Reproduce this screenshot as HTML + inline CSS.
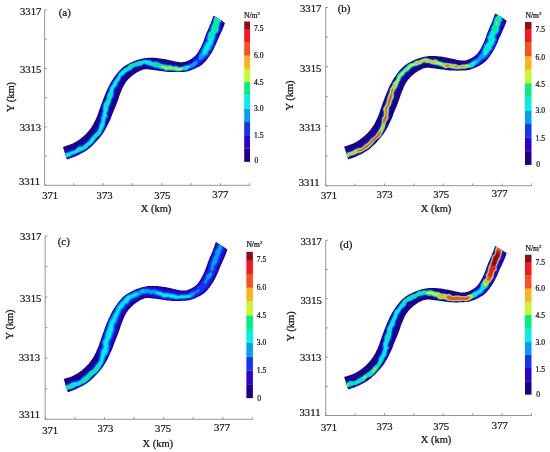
<!DOCTYPE html>
<html lang="en"><head><meta charset="utf-8"><title>Bed shear stress</title>
<style>html,body{margin:0;padding:0;background:#fff}body{width:550px;height:452px;overflow:hidden}svg{display:block}text{font-family:"Liberation Serif","Times New Roman",serif;fill:#111;stroke:#111;stroke-width:0.22px}</style></head><body>
<svg width="550" height="452" viewBox="0 0 550 452">
<defs><filter id="soft" x="-5%" y="-5%" width="110%" height="110%"><feGaussianBlur stdDeviation="0.35"/></filter></defs>
<rect width="550" height="452" fill="#fff"/>
<g id="panel-a">
<g class="river" filter="url(#soft)">
<polygon fill="#1c0088" points="62.9,146.9 64.3,146.4 65.7,145.9 67.1,145.5 68.6,145 70,144.6 71.4,144.1 72.7,143.5 74.1,142.8 75.4,142.1 76.8,141.2 78.1,140.4 79.4,139.5 80.7,138.5 82,137.5 83.2,136.5 84.3,135.5 85.4,134.5 86.4,133.4 87.5,132.3 88.4,131.2 89.3,130 90.2,128.9 91.1,127.7 91.9,126.5 92.7,125.3 93.4,124 94.1,122.6 94.8,121.3 95.4,120 96,118.7 96.5,117.5 97,116.4 97.4,115.5 97.7,114.7 98,114 98.2,113.4 98.4,112.7 98.6,112 98.9,111.1 99.3,110 99.8,108.7 100.3,107.2 100.9,105.5 101.5,103.8 102.2,102.1 102.8,100.3 103.5,98.6 104.1,97 104.7,95.5 105.3,94 105.9,92.5 106.6,91.1 107.2,89.6 107.8,88.2 108.5,86.9 109.2,85.5 109.9,84.2 110.7,82.8 111.4,81.5 112.2,80.2 113,79 113.8,77.8 114.6,76.6 115.5,75.4 116.4,74.3 117.3,73.1 118.2,72 119.1,71 120.1,69.9 121.1,68.9 122.1,68 123.2,67.1 124.4,66.3 125.6,65.4 126.9,64.7 128.2,64 129.5,63.3 130.8,62.7 132.1,62.1 133.4,61.5 134.6,61 135.9,60.5 137.1,60.1 138.3,59.7 139.5,59.3 140.7,59 141.8,58.8 143,58.5 144.1,58.3 145.2,58.1 146.3,58 147.4,57.9 148.4,57.8 149.5,57.7 150.6,57.7 151.8,57.7 153,57.7 154.3,57.8 155.6,57.9 156.9,58 158.2,58.2 159.5,58.4 160.8,58.5 162,58.7 163.2,58.9 164.3,59.1 165.5,59.3 166.6,59.6 167.7,59.8 168.8,60 169.9,60.3 171,60.5 172.1,60.7 173.3,61 174.4,61.3 175.5,61.5 176.7,61.8 177.8,62 178.8,62.1 179.8,62.2 180.7,62.2 181.6,62.2 182.4,62.2 183.2,62.1 184,62 184.8,61.9 185.6,61.6 186.5,61.3 187.5,60.9 188.5,60.5 189.5,59.9 190.6,59.3 191.6,58.7 192.7,58 193.6,57.3 194.5,56.6 195.3,55.8 196,55 196.7,54.1 197.4,53.1 198,52.2 198.6,51.2 199.1,50.2 199.7,49.3 200.2,48.4 200.7,47.4 201.2,46.5 201.7,45.5 202.1,44.6 202.5,43.6 202.9,42.6 203.3,41.7 203.7,40.8 204,39.9 204.3,39 204.6,38 204.9,37.1 205.3,36.2 205.6,35.2 206,34.2 206.4,33.1 206.9,32 207.4,30.9 207.9,29.7 208.5,28.5 209,27.3 209.5,26.2 210,25 210.5,23.9 210.9,22.7 211.3,21.6 211.8,20.4 212.2,19.2 212.6,18.1 213.1,17 213.5,15.8 225,23 224.7,23.8 224.4,24.6 224.1,25.4 223.8,26.2 223.5,27 223.2,27.8 222.8,28.7 222.4,29.7 221.9,30.8 221.4,31.9 220.8,33.2 220.2,34.5 219.6,35.7 219.1,37 218.5,38.2 218,39.3 217.6,40.3 217.1,41.3 216.8,42.2 216.4,43.1 216,43.9 215.6,44.8 215.2,45.7 214.8,46.6 214.3,47.5 213.9,48.5 213.4,49.4 213,50.4 212.4,51.4 211.9,52.4 211.2,53.4 210.5,54.5 209.7,55.7 208.8,56.9 207.9,58.2 206.9,59.5 205.9,60.9 204.8,62.1 203.6,63.3 202.3,64.4 200.9,65.4 199.4,66.4 197.7,67.3 196,68.1 194.3,68.9 192.6,69.6 191,70.3 189.5,70.8 188.1,71.2 186.9,71.5 185.7,71.7 184.5,71.8 183.3,71.9 182.2,71.9 181,71.9 179.8,72 178.5,72.1 177.2,72.1 175.9,72.1 174.6,72.1 173.3,72.1 172,72.1 170.7,72.1 169.5,72 168.4,71.9 167.3,71.8 166.2,71.7 165.2,71.6 164.2,71.4 163.1,71.3 162.1,71.1 161,71 159.9,70.9 158.7,70.7 157.5,70.5 156.3,70.4 155.2,70.2 154,70 152.9,69.9 151.8,69.8 150.8,69.7 149.8,69.6 148.8,69.4 147.9,69.3 147,69.3 146.1,69.2 145.2,69.3 144.3,69.4 143.4,69.6 142.5,69.8 141.6,70.2 140.7,70.5 139.8,70.9 138.9,71.4 138.1,71.8 137.2,72.3 136.3,72.8 135.5,73.4 134.6,73.9 133.7,74.5 132.9,75.2 132.1,75.8 131.3,76.5 130.5,77.2 129.8,77.9 129,78.6 128.3,79.3 127.7,80.1 127,80.8 126.3,81.6 125.7,82.5 125.1,83.4 124.5,84.4 123.9,85.4 123.4,86.5 122.8,87.6 122.3,88.7 121.8,89.8 121.3,91 120.8,92.2 120.3,93.4 119.9,94.6 119.4,95.8 119,97.1 118.6,98.4 118.2,99.6 117.7,101 117.2,102.3 116.7,103.7 116.1,105.2 115.4,106.7 114.8,108.2 114.2,109.8 113.6,111.2 113,112.6 112.5,113.8 112.1,114.8 111.8,115.7 111.5,116.4 111.3,117.1 111,117.8 110.7,118.6 110.3,119.6 109.7,120.8 109,122.2 108.2,123.9 107.3,125.6 106.4,127.5 105.3,129.4 104.2,131.4 103,133.2 101.8,135 100.5,136.7 99,138.5 97.4,140.3 95.8,142 94.2,143.7 92.5,145.4 90.9,146.9 89.4,148.2 87.9,149.4 86.4,150.5 85,151.4 83.6,152.3 82.1,153.1 80.7,153.8 79.3,154.5 77.9,155.2 76.5,155.9 75.2,156.4 73.8,157 72.5,157.5 71.1,157.9 69.8,158.4 68.4,158.9 67.1,159.4"/>
<polygon fill="#2d00d4" points="64.5,151.5 65.8,150.9 67.2,150.6 68.7,150.4 70.1,149.9 71.4,149.3 72.9,149 74.3,148.6 75.6,147.7 76.7,146.2 78,145 79.5,144.8 81.2,144.8 82.6,144.3 83.9,143.1 85.1,141.9 86.5,140.9 87.7,139.6 88.8,138 89.8,136.4 91.1,135.1 92.5,134 93.7,132.7 94.9,131.4 96.1,130.1 97,128.6 97.3,126.7 97.5,124.7 98,123 99,121.7 99.8,120.3 99.7,118.7 99.2,117.2 99.4,116.1 99.9,115.4 100.2,114.7 100.1,113.9 100.2,113.2 100.8,112.6 101.3,111.8 101.3,110.6 101.1,109.1 101.3,107.5 101.8,105.8 102.3,104.1 103,102.3 103.8,100.7 104.9,99.1 105.5,97.6 105.7,95.9 106,94.3 106.7,92.9 107.4,91.5 108,90 108.4,88.6 109,87.2 109.8,85.9 110.7,84.6 111.3,83.2 111.9,81.9 112.7,80.6 113.6,79.4 114.5,78.3 115.3,77.1 116.1,75.9 116.9,74.8 117.7,73.5 118.5,72.3 119.4,71.3 120.4,70.4 121.5,69.5 122.5,68.6 123.6,67.6 124.8,66.9 126,66.2 127.2,65.3 128.4,64.4 129.7,63.6 131,63 132.3,62.6 133.6,62.1 134.8,61.6 136,61.1 137.2,60.6 138.4,60.2 139.6,59.9 140.8,59.6 142,59.5 143.1,59.3 144.2,58.9 145.3,58.7 146.3,58.6 147.4,58.7 148.5,58.6 149.5,58.6 150.7,58.8 151.8,59.8 153,60.5 154.2,60.2 155.5,59.8 156.8,59.9 158.1,60.5 159.3,61.1 160.5,61.6 161.7,62.4 162.8,62.9 163.9,63.2 165.1,63.1 166.2,63.1 167.2,63.5 168.3,63.8 169.4,63.7 170.6,63.7 171.7,64.3 172.8,64.9 174,64.9 175.3,64.5 176.5,64.4 177.6,65 178.7,65.8 179.8,66 180.8,65.7 181.8,65.5 182.7,65.4 183.6,65 184.4,64.4 185.2,64 186.2,63.9 187.3,63.8 188.3,63.2 189.4,62.6 190.6,62 191.7,61.1 192.4,59.8 193.2,58.7 194.2,58 195.2,57.3 196.1,56.6 196.7,55.5 197.3,54.5 197.9,53.5 198.6,52.5 199.1,51.5 199.6,50.5 200.2,49.5 200.8,48.6 201.3,47.7 201.7,46.7 202.1,45.7 202.5,44.8 203,43.8 203.4,42.8 203.8,41.9 204.3,41 204.9,40.2 205.2,39.3 205.3,38.3 205.4,37.3 205.8,36.4 206.2,35.5 206.5,34.4 206.9,33.3 207.4,32.2 208.1,31.1 208.7,30 209.1,28.8 209.5,27.5 210,26.3 210.5,25.2 211,24.1 211.5,22.9 211.9,21.8 212.4,20.7 212.6,19.5 212.9,18.3 213.4,17.2 214,16.1 223.6,22.1 223.4,23.1 222.8,23.7 221.9,24.3 221.6,25.1 221.7,26.2 221.8,27.2 221.4,28.2 221.1,29.2 220.9,30.4 220.6,31.7 219.9,32.8 218.9,34 217.9,35.1 217.7,36.4 217.5,37.8 217.1,38.9 216.7,39.9 216.4,40.9 216,41.9 215.6,42.7 215.2,43.6 215,44.5 214.7,45.4 214.3,46.4 213.7,47.3 213.2,48.2 212.9,49.2 212.4,50.1 211.8,51.1 211,52 210.5,53.1 210,54.2 209.2,55.4 208.3,56.6 207.2,57.8 206.2,59.1 205.1,60.3 203.9,61.4 202.6,62.4 201.5,63.6 200.3,64.7 198.9,65.8 197.3,66.7 195.6,67.6 194,68.4 192.3,69 190.7,69.5 189.2,70 188,70.6 186.8,71.1 185.6,71.2 184.4,71.1 183.3,71.1 182.2,71.4 181,71.6 179.8,71.7 178.5,71.7 177.2,71.7 175.9,71.8 174.6,71.7 173.3,71.5 172.1,71.3 170.8,71.3 169.6,71.3 168.4,71.3 167.3,71.3 166.3,71.3 165.2,71.2 164.2,70.9 163.2,70.3 162.2,70.1 161.1,70.2 159.9,70.1 158.8,69.7 157.6,69.3 156.4,69.2 155.2,69.2 154,68.8 152.9,68.1 151.8,67.8 150.8,67.8 149.8,67.6 148.8,67.2 147.8,66.7 146.8,66.4 145.8,65.9 144.8,65.3 143.8,65.2 142.9,66.1 142,67.1 141.1,67.4 140,67.2 138.9,67.2 137.9,67.7 136.9,68.1 135.7,68.1 134.6,68.4 133.7,69.2 132.9,70.3 132,71.2 130.9,71.6 129.7,72.1 128.7,72.7 127.7,73.3 126.7,73.9 125.9,74.8 125.4,75.9 124.6,76.8 123.5,77.4 122.4,78 121.8,79 121.5,80.4 121.1,81.6 120.2,82.6 119.5,83.7 119.2,85.1 118.9,86.4 118,87.4 116.7,88.2 115.8,89.3 115.5,90.7 115.4,92.2 115.3,93.7 115.2,95.2 115.1,96.7 114.6,98.1 113.6,99.2 112.7,100.5 112.3,102 112.2,103.7 111.5,105.3 110.6,106.9 110.2,108.5 110.2,110.2 109.9,111.6 109,112.8 108.3,113.8 108.6,114.8 109.3,115.8 109.6,116.6 109.2,117.3 108.7,118 108.2,118.9 107.7,120.1 107,121.5 106.6,123.2 106.4,125.2 105.7,127.1 104.7,129 103.6,130.9 102.5,132.8 101.4,134.6 100,136.3 98.3,137.8 96.8,139.4 95.4,141.4 93.9,143.3 92.3,144.9 90.6,146.2 89.1,147.4 87.7,148.7 86.2,149.9 84.8,150.8 83.3,151.6 81.9,152.4 80.5,153.1 79,153.6 77.6,154.2 76.2,154.9 74.9,155.6 73.5,156.1 72.2,156.6 70.9,157.2 69.6,157.9 68.3,158.3 66.8,158.5"/>
<polygon fill="#1036f2" points="64.8,152.4 66.1,151.9 67.6,151.6 69,151.3 70.4,150.8 71.7,150.3 73.2,149.9 74.6,149.5 75.8,148.5 77,147.1 78.3,146.1 79.8,145.8 81.4,145.7 82.9,145.1 84.2,144 85.5,142.8 86.8,141.8 88.1,140.5 89.3,139 90.4,137.3 91.6,135.9 93,134.7 94.3,133.4 95.6,132 96.9,130.8 97.7,129.2 98.2,127.2 98.5,125.3 99,123.6 100,122.1 100.6,120.7 100.6,119 100.3,117.5 100.5,116.5 101,115.7 101.3,115 101.3,114.3 101.3,113.6 101.8,112.9 102.2,112 102.3,110.9 102.2,109.4 102.1,107.7 102.4,106 102.8,104.2 103.5,102.5 104.6,101 105.7,99.5 106.3,97.9 106.3,96.1 106.5,94.5 107.2,93.1 108.1,91.8 108.5,90.3 108.9,88.8 109.5,87.4 110.3,86.1 111.1,84.9 111.7,83.5 112.4,82.2 113.1,80.9 114,79.7 115,78.7 115.8,77.5 116.6,76.3 117.3,75.1 118,73.8 118.8,72.6 119.7,71.6 120.7,70.7 121.8,69.9 122.8,68.9 123.8,68 125,67.2 126.3,66.6 127.5,65.7 128.6,64.7 129.8,63.9 131.1,63.3 132.5,63 133.8,62.5 134.9,62 136.1,61.5 137.3,61 138.5,60.6 139.7,60.3 140.8,60.1 142,60.1 143.2,59.8 144.2,59.3 145.3,59.1 146.4,59.1 147.4,59.4 148.5,59.4 149.6,59.3 150.7,59.8 151.8,60.7 153,61.4 154.2,61.2 155.5,60.8 156.8,60.9 158,61.5 159.3,62.1 160.5,62.6 161.6,63.3 162.7,63.7 163.9,64 165,64 166.1,64.1 167.1,64.5 168.2,64.7 169.3,64.6 170.5,64.6 171.6,65.1 172.7,65.6 173.9,65.7 175.2,65.3 176.4,65.3 177.6,65.8 178.7,66.5 179.8,66.7 180.9,66.4 181.8,66.2 182.8,66 183.7,65.7 184.5,65.2 185.4,64.9 186.4,64.8 187.5,64.6 188.7,64.1 189.9,63.6 191.2,63 192.3,62.2 193.2,61 194.1,59.8 195.2,59.1 196.5,58.6 197.3,57.7 197.7,56.3 197.9,55 198.5,53.9 199.2,52.9 199.8,51.9 200.2,50.8 200.7,49.8 201.3,48.8 201.8,47.9 202.2,46.9 202.6,45.9 203,45 203.5,44 203.8,43 204.3,42.1 204.9,41.3 206,40.7 206.3,39.8 205.9,38.6 206,37.6 206.3,36.6 206.7,35.7 207,34.6 207.4,33.5 207.9,32.4 208.6,31.4 209.3,30.2 209.6,29 210,27.7 210.5,26.5 211,25.4 211.5,24.3 211.9,23.1 212.4,22 212.8,20.9 213,19.7 213.3,18.5 213.8,17.4 214.4,16.4 222.3,21.3 222.1,22.3 221.4,23 220.6,23.6 220.2,24.4 220.4,25.6 220.4,26.6 220,27.6 219.7,28.7 219.8,30 219.8,31.3 218.9,32.5 217.5,33.4 216.5,34.5 216.3,35.9 216.3,37.2 216,38.4 215.7,39.5 215.5,40.6 215.2,41.5 214.8,42.4 214.3,43.2 214.3,44.2 214.2,45.2 213.8,46.2 213.1,47 212.5,47.9 212.3,48.9 211.9,49.9 211,50.7 210,51.5 209.6,52.7 209.4,54 208.7,55.2 207.7,56.3 206.4,57.3 205.1,58.3 204,59.4 202.7,60.4 201.4,61.3 200.2,62.3 199.3,63.6 198.1,64.9 196.7,65.9 195.2,66.9 193.7,67.8 192,68.4 190.4,68.8 189,69.3 187.9,70.1 186.7,70.7 185.5,70.9 184.3,70.7 183.2,70.6 182.1,71 181,71.3 179.8,71.4 178.5,71.4 177.3,71.4 176,71.4 174.7,71.3 173.4,71.1 172.1,70.9 170.9,70.9 169.6,70.9 168.5,70.8 167.4,70.9 166.3,71 165.3,70.9 164.3,70.4 163.3,69.7 162.2,69.4 161.1,69.7 160,69.5 158.8,68.9 157.6,68.4 156.4,68.3 155.2,68.3 154,67.9 152.9,67.2 151.8,66.9 150.7,66.7 149.7,66.5 148.7,66.1 147.7,65.8 146.8,65.4 145.8,64.9 144.7,64.4 143.7,64.4 142.8,65.2 141.9,66.1 140.9,66.5 139.8,66.4 138.7,66.4 137.7,66.8 136.6,67.2 135.5,67.4 134.3,67.6 133.3,68.4 132.4,69.4 131.5,70.3 130.4,70.8 129.3,71.3 128.2,71.9 127.1,72.5 126.1,73.2 125.3,74.1 124.7,75.2 123.8,76 122.8,76.6 121.7,77.3 121.1,78.4 120.8,79.8 120.3,81 119.4,82 118.7,83.1 118.3,84.4 117.9,85.8 117,86.9 115.9,87.7 114.9,88.8 114.5,90.2 114.4,91.7 114.3,93.2 114.2,94.8 114,96.3 113.5,97.6 112.6,98.8 111.8,100.1 111.4,101.7 111.1,103.4 110.5,105 109.6,106.5 109.1,108.2 109.1,109.8 108.8,111.3 108,112.5 107.4,113.5 107.6,114.5 108.2,115.5 108.5,116.3 108.1,117 107.6,117.7 107.1,118.6 106.6,119.7 106.1,121.1 105.8,122.9 105.6,124.8 105.2,126.9 104.2,128.8 103.1,130.6 102.1,132.5 101,134.3 99.6,135.9 97.9,137.3 96.3,138.9 95.1,141 93.7,142.9 92.1,144.4 90.4,145.7 88.9,147 87.5,148.3 86.1,149.4 84.6,150.3 83.2,151.1 81.8,151.9 80.3,152.6 78.8,153.1 77.4,153.6 76,154.3 74.7,155 73.3,155.5 72,156 70.7,156.7 69.5,157.4 68.1,157.9 66.6,157.8"/>
<polygon fill="#00a0f0" points="65,153.2 66.4,152.7 67.8,152.4 69.2,152 70.6,151.5 71.9,151 73.4,150.6 74.8,150.1 76,149.1 77.2,147.8 78.5,146.8 80.1,146.5 81.7,146.4 83.1,145.8 84.4,144.6 85.7,143.4 87.1,142.4 88.4,141.2 89.7,139.7 90.8,138.1 92.1,136.5 93.4,135.1 94.7,133.8 96.1,132.5 97.4,131.2 98.3,129.6 98.9,127.7 99.2,125.7 99.8,124 100.7,122.5 101.3,120.9 101.3,119.3 101.2,117.8 101.4,116.8 101.9,116 102.2,115.3 102.1,114.5 102.2,113.8 102.5,113.1 102.9,112.2 103,111.1 103,109.6 102.9,108 103.1,106.2 103.5,104.5 104.2,102.8 105.3,101.2 106.4,99.7 106.9,98.1 107,96.4 107.2,94.8 108,93.4 108.8,92.1 109.2,90.7 109.4,89.1 109.9,87.6 110.8,86.4 111.7,85.2 112.4,83.9 112.9,82.5 113.7,81.3 114.6,80.2 115.6,79.1 116.4,77.9 117.1,76.7 117.8,75.5 118.3,74.1 119,72.9 119.9,71.9 121.1,71.1 122.2,70.3 123.2,69.4 124.1,68.4 125.4,67.7 126.7,67.2 127.8,66.2 128.7,65 129.9,64.2 131.3,63.6 132.6,63.3 133.9,63 135.1,62.5 136.3,61.9 137.4,61.5 138.6,61.1 139.8,60.8 141,60.7 142.1,60.7 143.2,60.3 144.3,59.9 145.4,59.7 146.4,59.9 147.5,60.1 148.5,60.2 149.6,60.2 150.7,60.6 151.8,61.4 153,62 154.2,61.9 155.4,61.6 156.7,61.7 158,62.2 159.2,62.8 160.4,63.3 161.6,63.9 162.7,64.3 163.8,64.5 164.9,64.6 166,64.8 167,65.1 168.1,65.3 169.3,65.1 170.4,65.1 171.5,65.6 172.7,66.1 173.9,66.2 175.1,65.9 176.4,65.9 177.5,66.4 178.7,67 179.8,67.2 180.9,66.9 181.9,66.7 182.8,66.5 183.7,66.2 184.6,65.8 185.6,65.5 186.6,65.4 187.7,65.2 188.9,64.9 190.3,64.4 191.6,63.9 192.9,63.1 194,62 195.1,61.1 196.8,60.9 197.8,60.9 197.6,61.8 197.1,63.6 196,64.9 194.7,66 193.2,67 191.7,67.6 190.1,68.1 188.8,68.7 187.7,69.5 186.6,70.2 185.4,70.4 184.3,70.2 183.2,70.2 182.1,70.6 181,71 179.8,71.2 178.6,71.2 177.3,71.2 176,71.1 174.7,71 173.4,70.6 172.2,70.4 170.9,70.4 169.7,70.4 168.6,70.4 167.4,70.6 166.3,70.7 165.3,70.6 164.3,70 163.3,69.2 162.3,68.9 161.2,69.1 160,68.9 158.9,68.2 157.7,67.7 156.5,67.5 155.2,67.5 154.1,67.2 152.9,66.6 151.8,66.2 150.7,65.9 149.7,65.6 148.7,65.3 147.7,65 146.7,64.7 145.7,64.2 144.7,63.8 143.6,63.8 142.7,64.6 141.7,65.4 140.7,65.8 139.6,65.7 138.5,65.8 137.5,66.2 136.4,66.6 135.3,66.8 134.1,67.1 133.1,67.8 132.1,68.8 131.2,69.7 130.1,70.3 128.9,70.8 127.8,71.4 126.7,72 125.7,72.7 124.9,73.6 124.2,74.6 123.3,75.4 122.2,76 121.2,76.8 120.6,78 120.3,79.4 119.7,80.6 118.8,81.6 118,82.6 117.5,83.9 117.1,85.3 116.4,86.4 115.3,87.4 114.3,88.5 113.9,89.8 113.7,91.3 113.6,92.9 113.5,94.4 113.3,95.9 112.8,97.3 111.9,98.5 111.2,99.9 110.8,101.4 110.4,103.1 109.7,104.7 108.8,106.3 108.4,107.9 108.3,109.6 108,111.1 107.2,112.3 106.7,113.3 106.8,114.3 107.3,115.3 107.6,116.1 107.3,116.7 106.7,117.4 106.2,118.3 105.8,119.4 105.4,120.9 105.2,122.6 104.9,124.5 104.4,126.5 103.5,128.3 102.5,130.2 101.7,132.2 100.7,134.1 99.2,135.6 97.5,136.9 96,138.4 94.7,140.4 93.4,142.4 91.9,144 90.2,145.2 88.7,146.4 87.3,147.8 85.9,149 84.5,149.9 83,150.6 81.5,151.2 80.1,151.8 78.6,152.4 77.2,153 75.9,153.7 74.5,154.3 73.1,154.8 71.8,155.3 70.5,156.1 69.3,156.9 67.9,157.3 66.3,157.1"/>
<polygon fill="#00a0f0" points="198.8,60 198.8,59 198.9,57.3 199.1,55.9 199.6,54.7 200.4,53.6 201.1,52.6 201.5,51.4 201.7,50.3 202.3,49.3 202.8,48.3 203.1,47.3 203.5,46.3 204,45.4 204.4,44.4 204.8,43.4 205.3,42.6 206.2,41.8 207.1,41.1 207.3,40.2 207.1,39.1 206.9,38 207.2,37 207.6,36.1 207.8,35 207.9,33.8 208.5,32.7 209.5,31.7 210.2,30.6 210.5,29.3 210.7,28 211.1,26.8 211.7,25.6 212.1,24.5 212.6,23.4 213.1,22.4 213.4,21.2 213.4,19.9 213.6,18.7 214.1,17.6 215,16.8 221.4,20.7 221.1,21.7 220.5,22.5 219.7,23.1 219.4,24 219.5,25.2 219.4,26.2 219,27.2 218.8,28.3 218.8,29.6 218.7,31 217.9,32.1 216.6,33.1 215.6,34.1 215.3,35.5 215.2,36.8 215,38 214.6,39.1 214.3,40.1 214,41 213.6,41.9 213.3,42.7 213.2,43.7 213.1,44.8 212.6,45.7 211.8,46.4 211.2,47.3 211,48.4 210.6,49.4 209.9,50.2 208.9,51.1 208.4,52.1 208.1,53.4 207.5,54.5 206.4,55.6 205.2,56.5 204,57.5 202.8,58.5 201.4,59.4 199.8,59.9"/>
<polygon fill="#00f0e6" points="65.3,153.9 66.7,153.5 68.1,153.2 69.5,152.7 70.8,152.2 72.2,151.7 73.6,151.3 74.9,150.7 76.2,149.7 77.4,148.5 78.8,147.6 80.3,147.2 81.9,147 83.3,146.4 84.6,145.2 85.9,144 87.3,143 88.7,141.9 90.1,140.5 91.3,138.8 92.5,137.1 93.7,135.6 95.1,134.2 96.5,132.9 97.9,131.7 98.9,130.1 99.6,128.2 100,126.2 100.6,124.4 101.4,122.8 102,121.2 102.1,119.6 102.1,118.2 102.4,117.1 102.8,116.2 103.1,115.5 103.1,114.8 103.1,114 103.3,113.3 103.6,112.4 103.8,111.3 103.8,109.9 103.7,108.2 103.9,106.5 104.2,104.7 105,103 106.1,101.5 107,100 107.5,98.4 107.6,96.7 107.9,95.1 108.7,93.8 109.5,92.5 110,91.1 110.2,89.5 110.6,88 111.4,86.8 112.3,85.6 113.1,84.4 113.8,83.1 114.5,81.9 115.3,80.7 116.2,79.5 116.9,78.4 117.6,77.2 118.3,75.9 118.8,74.6 119.6,73.4 120.5,72.5 121.6,71.7 122.6,70.8 123.5,69.8 124.5,68.9 125.7,68.2 127,67.7 128.1,66.8 129,65.6 130.1,64.6 131.4,64 132.8,63.8 134.1,63.5 135.3,63 136.4,62.5 137.6,62 138.7,61.7 139.9,61.4 141.1,61.4 142.2,61.3 143.3,60.9 144.4,60.6 145.4,60.4 146.5,60.6 147.5,60.9 148.5,61 149.6,61.1 150.7,61.5 151.8,62.1 153,62.6 154.2,62.6 155.4,62.4 156.7,62.4 157.9,62.9 159.2,63.4 160.4,63.9 161.5,64.4 162.7,64.7 163.8,65 164.8,65.1 165.9,65.4 167,65.7 168,65.8 169.2,65.6 170.3,65.6 171.5,66 172.6,66.6 173.8,66.7 175.1,66.4 176.3,66.4 177.5,66.8 178.7,67.4 179.8,67.6 180.9,67.3 181.9,67.1 182.9,66.9 183.8,66.7 184.7,66.4 185.7,66.2 186.8,66.1 188,66 189.3,65.8 190.2,66.2 189.8,67.1 188.6,67.9 187.5,68.8 186.5,69.6 185.3,69.8 184.2,69.7 183.1,69.8 182.1,70.2 181,70.7 179.8,71 178.6,70.9 177.3,70.8 176,70.7 174.7,70.5 173.5,70.2 172.2,70 171,69.9 169.8,69.9 168.6,69.9 167.5,70.1 166.4,70.3 165.3,70.2 164.4,69.5 163.4,68.8 162.3,68.4 161.2,68.5 160.1,68.2 158.9,67.6 157.7,67 156.5,66.8 155.3,66.8 154.1,66.5 152.9,66 151.8,65.5 150.7,65.1 149.7,64.8 148.7,64.5 147.7,64.3 146.7,64 145.7,63.5 144.6,63.2 143.6,63.3 142.6,64 141.6,64.8 140.6,65.1 139.5,65.1 138.4,65.2 137.3,65.6 136.2,66.1 135.1,66.3 133.9,66.6 132.8,67.2 131.8,68.2 130.9,69 129.8,69.7 128.6,70.3 127.5,70.9 126.4,71.5 125.4,72.2 124.5,73.1 123.7,74 122.6,74.7 121.5,75.4 120.6,76.3 120.1,77.5 119.7,78.9 119.1,80.1 118.2,81.1 117.3,82.1 116.7,83.4 116.3,84.7 115.6,86 114.7,87 113.7,88.1 113.1,89.4 112.9,90.9 112.8,92.5 112.7,94.1 112.5,95.6 112,96.9 111.3,98.2 110.6,99.6 110.2,101.2 109.7,102.8 108.9,104.4 108.1,106 107.6,107.7 107.5,109.4 107.1,110.8 106.4,112 106,113.1 106.1,114.1 106.5,115 106.7,115.8 106.4,116.5 105.8,117.1 105.2,118 104.8,119.1 104.6,120.6 104.5,122.3 104.2,124.2 103.6,126 102.7,127.8 101.8,129.7 101.1,131.7 100.2,133.6 98.8,135.1 97.1,136.5 95.6,138 94.3,139.8 93,141.7 91.5,143.2 89.9,144.6 88.4,145.8 87.1,147.2 85.7,148.4 84.3,149.3 82.8,149.9 81.3,150.5 79.9,151.1 78.4,151.7 77,152.4 75.7,153.1 74.3,153.6 72.9,154.1 71.5,154.6 70.3,155.4 69,156.2 67.7,156.5 66.1,156.3"/>
<polygon fill="#00f0e6" points="202.4,55.7 202.4,54.9 202.9,53.6 203.3,52.4 203.3,51 203.5,49.9 203.9,48.8 204.3,47.8 204.8,46.9 205.5,46 205.9,45.1 206.3,44.1 206.8,43.2 207.5,42.4 208.2,41.6 208.5,40.7 208.4,39.6 208.3,38.6 208.3,37.5 208.6,36.5 208.7,35.4 208.9,34.1 209.4,33 210.3,32 211.1,30.9 211.5,29.6 211.7,28.3 212,27.1 212.5,26 213,24.8 213.5,23.8 213.9,22.7 214.1,21.5 214.1,20.2 214.2,18.9 214.8,18 215.8,17.3 220.6,20.2 220.3,21.2 219.7,22 219,22.7 218.6,23.7 218.7,24.8 218.5,25.9 218.2,26.9 217.9,28 217.9,29.3 217.8,30.6 217,31.7 215.7,32.7 214.8,33.8 214.4,35.1 214.3,36.4 214,37.6 213.6,38.6 213.1,39.6 212.6,40.4 212.3,41.3 212.1,42.3 212.1,43.3 211.8,44.2 211.1,45 210.3,45.8 209.7,46.7 209.5,47.7 209.3,48.8 208.7,49.7 207.9,50.6 207.2,51.6 206.6,52.6 205.7,53.6 204.5,54.5 203.2,55.3"/>
<polygon fill="#00f07d" points="75.9,151.4 76.6,150.8 77.8,149.6 79.1,148.8 80.7,148.4 82.2,148.1 83.6,147.2 84.9,146 86.2,144.9 87.7,143.9 88.6,143.8 88.1,144.9 86.8,146.3 85.5,147.6 84,148.5 82.5,148.9 80.9,149.3 79.5,149.9 78.1,150.6 76.7,151.3"/>
<polygon fill="#00f07d" points="92.7,139.2 93.2,138.2 94.2,136.2 95.6,134.7 97.1,133.5 98.9,132.5 99.6,131.8 99.3,132.8 98.2,134.5 96.7,135.9 95.1,137.3 93.6,138.7"/>
<polygon fill="#00f07d" points="105.3,109.5 105,108.6 104.9,106.8 105.2,105 106,103.4 107.1,101.9 107.9,100.3 108.2,98.7 108.4,97 108.8,95.5 109.7,94.2 110.7,93.1 111.4,92.6 111.5,93.5 111.5,95.1 111.1,96.6 110.5,97.9 109.8,99.3 109.3,100.9 108.7,102.5 107.9,104.1 107.1,105.7 106.6,107.4 106.2,109"/>
<polygon fill="#00f07d" points="123.1,72.4 123.2,71.6 124,70.5 125,69.6 126.2,69 127.4,68.3 128.5,67.5 129.4,66.3 130.5,65.3 131.7,64.7 133.1,64.4 134.3,64.2 135.5,63.8 136.6,63.2 137.7,62.7 138.9,62.3 140,62.2 141.2,62.3 142.3,62.2 142.9,62.5 142.5,63 141.5,63.9 140.5,64.3 139.3,64.5 138.2,64.6 137.1,64.9 136,65.3 134.9,65.6 133.7,66 132.5,66.6 131.5,67.5 130.5,68.3 129.4,69 128.2,69.6 127,70.1 125.9,70.8 124.9,71.6 123.9,72.4"/>
<polygon fill="#00f07d" points="145,62 145.5,61.8 146.5,61.7 147.6,62 148.6,62.3 149.6,62.7 150.7,62.9 151.8,63.2 152.9,63.4 154.2,63.4 155.4,63.2 156.7,63.3 157.9,63.7 159.1,64.2 160.3,64.6 161.5,65 162.6,65.2 163.7,65.4 164.8,65.7 165.8,66 166.9,66.3 168,66.3 169.1,66.1 170.3,66.1 171.4,66.5 172.6,67 173.8,67.1 175,66.9 176.3,66.9 177.5,67.3 178.6,67.8 179.8,68 180.9,67.8 181.9,67.5 182.9,67.3 183.9,67.2 184.9,67 185.9,67 186.6,67.7 186.3,68.8 185.2,69.2 184.1,69.2 183.1,69.4 182.1,69.8 181,70.3 179.8,70.6 178.6,70.5 177.3,70.3 176,70.2 174.8,70 173.5,69.7 172.3,69.6 171,69.5 169.8,69.4 168.7,69.4 167.6,69.5 166.5,69.7 165.4,69.6 164.4,69 163.4,68.3 162.4,68 161.2,67.9 160.1,67.5 159,66.8 157.8,66.2 156.5,65.9 155.3,65.9 154.1,65.7 152.9,65.2 151.8,64.4 150.7,63.6 149.6,63.1 148.6,63.2 147.6,63.2 146.6,62.9 145.5,62.1"/>
<polygon fill="#00f07d" points="210.9,38 210,37.1 209.9,35.9 210,34.6 210.5,33.5 211.3,32.4 212.1,31.3 212.6,30.1 212.8,28.7 213.1,27.5 213.5,26.3 213.9,25.2 214.4,24.2 214.8,23.1 214.9,21.9 214.9,20.6 215.1,19.5 215.8,18.6 216.8,17.8 219.7,19.7 219.3,20.6 218.7,21.5 218.1,22.3 217.8,23.3 217.8,24.4 217.6,25.5 217.2,26.5 216.9,27.6 216.9,28.9 216.7,30.2 215.9,31.3 214.7,32.3 213.8,33.4 213.4,34.7 213.2,35.9 212.8,37.1 212.1,38"/>
<polygon fill="#c8fa28" points="160.8,66.4 161.4,65.9 162.6,65.9 163.7,66 164.7,66.4 165.7,66.8 166.8,67.1 167.9,67 169,66.8 170.2,66.7 171.3,67.1 172.5,67.5 173.7,67.7 175,67.6 176.2,67.6 177.4,67.9 178.6,68.3 179.8,68.5 180.9,68.3 182,68.1 183,68.2 183.5,68.3 183,68.5 182,69.2 181,69.7 179.8,70.1 178.6,70 177.3,69.8 176.1,69.5 174.8,69.3 173.6,69.1 172.3,69 171.1,68.9 169.9,68.8 168.8,68.8 167.6,68.9 166.6,69 165.5,68.8 164.5,68.3 163.5,67.7 162.4,67.3 161.3,67"/>
</g>
<path d="M44.6 10.0 V185.3 H249.7" fill="none" stroke="#8a8a8a" stroke-width="0.9"/>
<path d="M44.6 10.0h2.2M44.6 39.2h2.2M44.6 68.4h2.2M44.6 97.7h2.2M44.6 126.9h2.2M44.6 156.1h2.2M44.6 185.3h2.2M44.6 185.3v-2.2M73.9 185.3v-2.2M103.2 185.3v-2.2M132.5 185.3v-2.2M161.8 185.3v-2.2M191.1 185.3v-2.2M220.4 185.3v-2.2M249.7 185.3v-2.2" fill="none" stroke="#8a8a8a" stroke-width="0.9"/>
<text x="41.4" y="14.5" font-size="10.7" text-anchor="end">3317</text>
<text x="41.4" y="72.5" font-size="10.7" text-anchor="end">3315</text>
<text x="41.0" y="130.8" font-size="10.7" text-anchor="end">3313</text>
<text x="40.0" y="184.7" font-size="10.7" text-anchor="end">3311</text>
<text x="50.2" y="198.8" font-size="10.7" text-anchor="middle">371</text>
<text x="104.6" y="198.5" font-size="10.7" text-anchor="middle">373</text>
<text x="162.3" y="198.5" font-size="10.7" text-anchor="middle">375</text>
<text x="220.3" y="198.0" font-size="10.7" text-anchor="middle">377</text>
<text x="58.7" y="15.6" font-size="11.0">(a)</text>
<text transform="translate(13.7 97.0) rotate(-90)" font-size="10.5" text-anchor="middle" stroke-width="0.08">Y (km)</text>
<text x="156.0" y="212.2" font-size="10.5" text-anchor="middle" stroke-width="0.08">X (km)</text>
<rect x="244.2" y="148.42" width="5.8" height="13.43" fill="#1c0088"/>
<rect x="244.2" y="135.14" width="5.8" height="13.43" fill="#2d00d4"/>
<rect x="244.2" y="121.86" width="5.8" height="13.43" fill="#1036f2"/>
<rect x="244.2" y="108.58" width="5.8" height="13.43" fill="#00a0f0"/>
<rect x="244.2" y="95.30" width="5.8" height="13.43" fill="#00f0e6"/>
<rect x="244.2" y="82.02" width="5.8" height="13.43" fill="#00f07d"/>
<rect x="244.2" y="68.74" width="5.8" height="13.43" fill="#c8fa28"/>
<rect x="244.2" y="55.46" width="5.8" height="13.43" fill="#fab41e"/>
<rect x="244.2" y="42.18" width="5.8" height="13.43" fill="#fa501e"/>
<rect x="244.2" y="28.90" width="5.8" height="13.43" fill="#fa141e"/>
<rect x="244.2" y="21.50" width="5.8" height="7.55" fill="#8c0f14"/>
<text x="244.0" y="18.1" font-size="7.6">N/m<tspan font-size="5.0" dy="-3.0">2</tspan></text>
<text x="254.0" y="31.0" font-size="7.6">7.5</text>
<text x="254.0" y="58.2" font-size="7.6">6.0</text>
<text x="254.0" y="84.8" font-size="7.6">4.5</text>
<text x="254.0" y="111.1" font-size="7.6">3.0</text>
<text x="254.0" y="137.5" font-size="7.6">1.5</text>
<text x="254.6" y="163.2" font-size="7.6">0</text>
</g>
<g id="panel-b">
<g class="river" filter="url(#soft)">
<polygon fill="#1c0088" points="344.1,146.6 345.5,146.2 346.9,145.7 348.3,145.2 349.7,144.8 351.2,144.3 352.6,143.8 353.9,143.2 355.3,142.5 356.6,141.7 358,140.9 359.3,140 360.6,139.1 361.9,138.1 363.2,137.1 364.4,136.1 365.5,135.1 366.6,134 367.7,132.9 368.7,131.8 369.7,130.7 370.6,129.5 371.5,128.3 372.3,127.1 373.2,125.9 373.9,124.7 374.7,123.3 375.4,122 376.1,120.6 376.7,119.3 377.3,118 377.8,116.8 378.3,115.6 378.7,114.7 379,113.9 379.2,113.2 379.5,112.6 379.7,111.9 379.9,111.2 380.2,110.3 380.6,109.1 381.1,107.8 381.6,106.3 382.2,104.6 382.8,102.9 383.5,101.1 384.1,99.3 384.8,97.6 385.4,95.9 386,94.4 386.6,92.9 387.2,91.4 387.9,89.9 388.5,88.5 389.1,87 389.8,85.6 390.5,84.2 391.2,82.9 392,81.5 392.7,80.2 393.5,78.9 394.3,77.6 395.1,76.4 396,75.2 396.8,74 397.7,72.8 398.6,71.7 399.5,70.6 400.5,69.5 401.4,68.4 402.4,67.4 403.5,66.4 404.6,65.5 405.7,64.7 407,63.9 408.2,63.1 409.6,62.4 410.9,61.7 412.2,61 413.5,60.4 414.8,59.8 416,59.3 417.3,58.8 418.5,58.4 419.7,58 420.9,57.7 422.1,57.3 423.3,57.1 424.4,56.8 425.6,56.6 426.7,56.4 427.7,56.2 428.8,56.1 429.9,56.1 431,56 432.1,56 433.3,56 434.5,56 435.8,56.1 437.1,56.2 438.4,56.3 439.7,56.5 441,56.6 442.3,56.8 443.5,57 444.7,57.2 445.8,57.4 447,57.6 448.1,57.9 449.2,58.1 450.3,58.4 451.4,58.6 452.5,58.8 453.7,59.1 454.8,59.3 455.9,59.6 457.1,59.9 458.2,60.1 459.3,60.3 460.4,60.5 461.4,60.6 462.3,60.6 463.2,60.6 464,60.6 464.8,60.5 465.6,60.4 466.4,60.2 467.2,60 468.1,59.6 469,59.2 470.1,58.8 471.1,58.3 472.2,57.7 473.2,57 474.3,56.3 475.2,55.6 476.1,54.9 476.9,54.1 477.7,53.2 478.3,52.3 479,51.3 479.6,50.4 480.2,49.4 480.8,48.4 481.3,47.4 481.9,46.5 482.4,45.5 482.8,44.6 483.3,43.6 483.7,42.6 484.1,41.7 484.5,40.7 484.9,39.7 485.3,38.8 485.7,37.8 486,36.9 486.3,36 486.6,35.1 486.9,34.1 487.3,33.1 487.7,32.1 488.1,31 488.6,29.9 489.1,28.7 489.6,27.5 490.1,26.3 490.7,25.1 491.2,23.9 491.7,22.7 492.1,21.6 492.6,20.4 493,19.2 493.5,18.1 493.9,16.9 494.3,15.7 494.7,14.6 495.2,13.4 506.7,20.7 506.4,21.5 506.1,22.3 505.8,23.1 505.5,23.9 505.2,24.8 504.9,25.6 504.5,26.5 504.1,27.5 503.6,28.6 503.1,29.8 502.5,31.1 501.9,32.4 501.3,33.7 500.8,34.9 500.2,36.2 499.7,37.3 499.2,38.3 498.8,39.3 498.4,40.2 498.1,41.1 497.7,42 497.3,42.9 496.9,43.8 496.5,44.7 496,45.7 495.6,46.6 495.1,47.6 494.6,48.6 494.1,49.5 493.5,50.6 492.9,51.6 492.2,52.7 491.4,53.9 490.5,55.2 489.6,56.5 488.6,57.9 487.5,59.2 486.4,60.5 485.2,61.7 483.9,62.8 482.5,63.8 481,64.8 479.3,65.7 477.6,66.6 475.9,67.4 474.2,68.1 472.6,68.8 471.1,69.3 469.7,69.7 468.5,70 467.2,70.2 466.1,70.3 464.9,70.4 463.8,70.4 462.6,70.5 461.4,70.5 460.1,70.6 458.8,70.6 457.5,70.7 456.1,70.7 454.8,70.6 453.5,70.6 452.2,70.6 451,70.5 449.9,70.4 448.8,70.3 447.7,70.2 446.7,70.1 445.7,69.9 444.6,69.8 443.6,69.6 442.5,69.5 441.4,69.4 440.2,69.2 439,69 437.8,68.9 436.6,68.7 435.5,68.5 434.3,68.4 433.3,68.3 432.2,68.2 431.3,68 430.3,67.9 429.4,67.8 428.5,67.7 427.6,67.7 426.7,67.8 425.7,67.9 424.8,68.1 423.9,68.3 423,68.6 422.1,69 421.2,69.4 420.4,69.9 419.5,70.3 418.6,70.8 417.7,71.3 416.9,71.9 416,72.5 415.1,73.1 414.3,73.8 413.5,74.4 412.7,75.1 411.9,75.8 411.1,76.5 410.4,77.2 409.7,78 409,78.7 408.4,79.5 407.7,80.3 407.1,81.2 406.5,82.1 405.9,83.1 405.3,84.1 404.7,85.2 404.2,86.3 403.7,87.5 403.2,88.7 402.7,89.9 402.2,91.1 401.7,92.3 401.2,93.5 400.8,94.7 400.4,96 400,97.3 399.5,98.6 399,100 398.5,101.3 398,102.7 397.4,104.2 396.8,105.8 396.1,107.4 395.5,108.9 394.9,110.4 394.3,111.8 393.8,113 393.4,114.1 393.1,114.9 392.9,115.7 392.6,116.4 392.4,117.1 392,117.9 391.6,118.9 391,120.1 390.3,121.6 389.5,123.2 388.6,125 387.7,126.9 386.6,128.9 385.5,130.8 384.3,132.7 383.1,134.6 381.7,136.3 380.3,138.1 378.7,139.9 377.1,141.7 375.5,143.4 373.8,145.1 372.2,146.6 370.7,148 369.2,149.2 367.7,150.3 366.2,151.2 364.8,152.1 363.3,152.9 361.9,153.7 360.5,154.4 359.1,155.1 357.7,155.8 356.4,156.4 355,156.9 353.7,157.4 352.3,157.9 351,158.4 349.6,158.8 348.3,159.4"/>
<polygon fill="#2d00d4" points="345.7,151.6 347.1,151.1 348.5,150.7 349.9,150.3 351.3,149.8 352.6,149.2 354,148.5 355.3,147.8 356.7,147.1 358.2,146.6 359.7,146.3 361.1,145.6 362.4,144.7 363.7,143.6 365,142.5 366.4,141.6 367.7,140.5 368.9,139.1 370.1,137.7 371.4,136.5 372.8,135.3 374.1,134 375.3,132.6 376.4,131.1 377.4,129.6 378.2,128 379,126.3 379.7,124.6 380.3,122.9 380.7,121.2 380.7,119.5 380.8,117.9 381.4,116.8 382.2,115.9 382.6,115 382.5,114.2 382.4,113.4 382.7,112.8 382.8,112 382.4,110.9 381.9,109.5 382.2,108.1 383,106.7 384,105.2 384.8,103.5 385.3,101.7 385.9,99.9 386.3,98.1 386.6,96.4 387.1,94.9 387.8,93.4 388.5,91.9 388.9,90.4 389.3,88.9 389.9,87.4 390.8,86.1 391.5,84.8 392,83.3 392.7,82 393.6,80.8 394.7,79.7 395.5,78.5 396,77 396.5,75.6 397.3,74.4 398.2,73.2 399.1,72.2 400.1,71.1 401.2,70.2 402.2,69.3 403.1,68.3 404.1,67.2 405.1,66.3 406.3,65.5 407.4,64.5 408.5,63.6 409.8,62.9 411.3,62.5 412.7,62 413.9,61.3 415,60.5 416.2,60 417.5,59.7 418.8,59.5 419.9,59.1 421.1,58.6 422.2,58.2 423.4,57.9 424.5,57.5 425.6,57.3 426.7,57.4 427.8,57.6 428.9,57.8 430,58 431,58.4 432.1,58.8 433.3,58.8 434.5,58.3 435.7,58.1 437,58.7 438.2,59.6 439.5,60.1 440.8,60.3 442,60.6 443.2,61.1 444.3,61.4 445.4,61.5 446.6,61.5 447.7,61.8 448.7,62.1 449.8,62.2 450.9,62.4 452.1,62.6 453.2,62.8 454.4,62.8 455.6,62.9 456.8,63.3 457.9,64 459.1,64.4 460.3,64.2 461.4,63.8 462.4,63.5 463.3,63.6 464.3,63.6 465.2,63.4 466,63.1 467,63 468,63 469,62.5 469.9,61.6 470.9,60.6 471.9,59.7 472.9,58.8 473.8,57.9 474.9,57.2 476,56.5 476.8,55.6 477.5,54.6 478.2,53.6 478.9,52.7 479.7,51.8 480.3,50.8 480.7,49.7 481.3,48.7 481.8,47.7 482.4,46.7 482.8,45.7 483.2,44.7 483.7,43.8 484.2,42.8 484.7,41.9 485.2,41 485.6,40 486,39.1 486.2,38.1 486.3,37.1 486.6,36.2 487,35.3 487.4,34.3 487.8,33.3 488.1,32.3 488.6,31.2 489.2,30.1 489.7,29 490.1,27.7 490.6,26.5 491.2,25.3 491.8,24.2 492.3,23 492.6,21.8 493,20.6 493.4,19.4 493.8,18.3 494.3,17.1 494.8,16 495.4,15 495.9,13.8 504.2,19.1 504.4,20.3 504.6,21.5 504.3,22.3 503.5,23 503,23.7 502.9,24.8 502.7,25.8 502.1,26.8 501.6,27.8 501.5,29.2 501.4,30.7 501,32 500.3,33.3 499.6,34.5 499,35.7 498.4,36.7 498,37.8 497.8,38.9 497.8,39.9 497.6,40.9 497.2,41.7 496.7,42.6 496.3,43.5 496,44.5 495.5,45.4 495,46.4 494.5,47.3 494.1,48.3 493.7,49.3 493,50.3 492.3,51.3 491.5,52.4 490.7,53.6 489.9,54.9 489,56.2 488.1,57.5 487,58.8 485.8,60 484.5,61 483,61.9 481.8,63 480.4,64.1 478.8,65 477.2,65.9 475.5,66.7 474,67.6 472.4,68.3 470.9,68.6 469.4,68.5 468.2,68.8 467.1,69.2 465.9,69.4 464.8,69.4 463.7,69.4 462.6,69.5 461.4,69.6 460.1,69.6 458.8,69.7 457.5,69.9 456.2,69.9 454.9,69.7 453.6,69.5 452.4,69.4 451.2,69.4 450.1,69.1 449,68.6 447.9,68.5 446.8,69 445.7,69.2 444.7,69 443.7,68.5 442.6,68 441.5,67.6 440.3,67.2 439.1,66.8 437.9,66.4 436.7,66.3 435.5,66.1 434.4,65.8 433.3,65.5 432.2,65.4 431.2,65.1 430.2,64.6 429.2,64.2 428.2,64.1 427.3,64.3 426.3,64.2 425.3,63.7 424.2,63.6 423.2,64 422.3,64.7 421.3,65.3 420.3,65.7 419.3,66 418.3,66.5 417.2,66.9 416.1,67.2 415,67.5 413.9,68 412.8,68.7 411.8,69.4 410.9,70.3 410.1,71.3 409.3,72.2 408.3,72.8 407.2,73.3 406.3,74.1 405.7,75.1 405.1,76.2 404.2,77 403.2,77.7 402.5,78.7 401.9,79.9 401.4,81.2 400.8,82.3 400.1,83.5 399.6,84.8 399.2,86.1 398.6,87.4 397.9,88.6 397.2,89.8 396.5,91 395.8,92.2 395.3,93.5 395.2,95.1 395.4,96.8 395.2,98.3 394.4,99.6 393.5,101 393,102.6 392.6,104.3 391.9,105.9 391,107.4 390.3,109 390.2,110.5 390.2,111.9 390,113.1 389.6,113.9 389.5,114.7 389.6,115.5 389.6,116.3 389.6,117.2 389.6,118.3 389.3,119.5 388.4,120.8 387.3,122.3 386.5,124 386.2,126.1 385.6,128.3 384.7,130.3 383.6,132.2 382.6,134.1 381.4,136 379.9,137.7 378.2,139.3 376.4,140.7 374.8,142.3 373.3,144.1 371.8,145.8 370.4,147.2 368.9,148.5 367.4,149.5 365.9,150.4 364.5,151.1 363.1,152 361.7,152.8 360.3,153.5 358.8,154 357.3,154.4 356,155.1 354.7,155.8 353.3,156.2 351.8,156.4 350.5,156.9 349.3,157.8 348,158.5"/>
<polygon fill="#1036f2" points="346,152.5 347.4,152.1 348.9,151.9 350.3,151.5 351.6,150.9 353,150.2 354.3,149.5 355.6,148.7 357,148 358.4,147.6 360,147.5 361.6,147.2 362.9,146.2 364.1,144.7 365.4,143.6 366.8,142.7 368.2,141.7 369.3,140.2 370.5,138.6 372,137.5 373.6,136.5 375,135.2 376.1,133.5 377.2,131.8 378.2,130.3 379.1,128.7 379.9,127 380.6,125.2 381.2,123.4 381.5,121.6 381.4,119.8 381.6,118.2 382.2,117 383,116.1 383.3,115.2 383.2,114.4 383.2,113.6 383.4,113 383.5,112.2 383.1,111.1 382.6,109.7 382.8,108.3 383.6,106.9 384.6,105.4 385.4,103.7 386,102 386.5,100.2 386.9,98.4 387.2,96.7 387.7,95.1 388.4,93.7 389,92.2 389.3,90.6 389.6,89 390.3,87.6 391.2,86.4 391.9,85 392.4,83.6 393,82.2 394,81.1 395.2,80.1 396,78.8 396.3,77.3 396.8,75.8 397.6,74.6 398.5,73.5 399.4,72.4 400.4,71.4 401.5,70.6 402.5,69.7 403.4,68.7 404.3,67.6 405.4,66.7 406.5,65.8 407.6,64.8 408.7,63.9 410,63.2 411.4,62.8 412.9,62.5 414,61.7 415.1,60.8 416.3,60.3 417.6,60.1 418.9,60 420,59.6 421.2,59 422.3,58.6 423.4,58.2 424.6,57.8 425.7,57.7 426.8,57.8 427.9,58.1 428.9,58.4 430,58.6 431,59.1 432.1,59.5 433.3,59.5 434.5,59 435.7,58.8 436.9,59.4 438.2,60.3 439.4,61 440.7,61.2 441.9,61.4 443.1,62 444.2,62.3 445.4,62.4 446.5,62.4 447.6,62.5 448.6,62.8 449.7,63 450.8,63.1 452,63.3 453.1,63.5 454.3,63.5 455.5,63.6 456.7,64 457.9,64.8 459.1,65.2 460.2,65 461.4,64.4 462.4,64.2 463.4,64.2 464.3,64.2 465.2,64 466.1,63.7 467.1,63.6 468.1,63.6 469.2,63.2 470.2,62.3 471.2,61.4 472.3,60.6 473.4,59.7 474.5,58.8 475.7,58.2 476.9,57.5 477.8,56.6 478.3,55.3 478.8,54.2 479.7,53.3 480.6,52.4 481.1,51.3 481.3,50 481.7,48.9 482.3,47.9 482.9,47 483.2,45.9 483.6,44.9 484.1,44 484.7,43 485.3,42.2 485.9,41.3 486.5,40.4 486.7,39.4 486.7,38.3 486.8,37.3 487,36.3 487.4,35.5 487.9,34.6 488.3,33.6 488.6,32.5 489.1,31.4 489.7,30.4 490.2,29.2 490.6,27.9 491,26.7 491.7,25.5 492.4,24.4 492.8,23.2 493.1,22 493.4,20.7 493.8,19.6 494.2,18.5 494.7,17.3 495.3,16.3 495.9,15.3 496.4,14.2 502.8,18.2 503,19.5 503.2,20.7 502.8,21.6 502,22.2 501.5,23.1 501.4,24.2 501.3,25.2 500.6,26.2 500.1,27.3 500,28.6 500.2,30.2 499.8,31.5 499.1,32.8 498.2,33.9 497.5,35 496.8,36 496.4,37.1 496.5,38.3 497.1,39.6 497.1,40.7 496.7,41.5 496.1,42.3 495.8,43.3 495.5,44.3 495,45.2 494.4,46.1 493.8,47 493.6,48.1 493.2,49.1 492.5,50.1 491.6,51 490.7,52 490.1,53.2 489.4,54.6 488.5,55.8 487.5,57.1 486.4,58.3 485,59.3 483.4,60 482,60.8 480.9,62 479.7,63.2 478.3,64.2 476.7,65.1 475.2,66.2 473.8,67.2 472.3,67.9 470.7,68.1 469.3,68 468.1,68.3 467,68.7 465.9,68.9 464.8,69 463.7,68.9 462.5,69 461.4,69.1 460.1,69.2 458.8,69.3 457.5,69.5 456.2,69.6 454.9,69.3 453.7,68.9 452.5,68.8 451.2,68.8 450.1,68.5 449.1,68 448,67.9 446.9,68.5 445.8,68.8 444.7,68.7 443.7,68 442.7,67.4 441.5,67 440.4,66.5 439.2,66.1 438,65.7 436.7,65.6 435.5,65.4 434.4,65.1 433.3,64.8 432.2,64.7 431.2,64.4 430.2,63.9 429.2,63.4 428.2,63.4 427.2,63.6 426.2,63.5 425.2,62.9 424.1,62.7 423,63.1 422.1,63.9 421.1,64.6 420.1,64.9 419.1,65.3 418,65.7 417,66.1 415.8,66.3 414.6,66.5 413.4,67 412.4,67.7 411.3,68.5 410.4,69.4 409.6,70.4 408.7,71.4 407.7,72 406.5,72.4 405.5,73.1 404.9,74.3 404.4,75.5 403.5,76.3 402.4,77 401.6,78 401.1,79.3 400.6,80.5 399.9,81.7 399.2,82.9 398.8,84.2 398.4,85.6 397.8,86.9 397.1,88.1 396.4,89.3 395.6,90.5 394.8,91.7 394.2,93 394.2,94.6 394.5,96.4 394.4,98 393.6,99.3 392.7,100.6 392.1,102.3 391.8,104 391.1,105.6 390.1,107.1 389.4,108.7 389.3,110.3 389.3,111.7 389.2,112.8 388.9,113.7 388.8,114.5 388.8,115.3 388.9,116.1 388.9,117 388.9,118 388.6,119.3 387.8,120.6 386.7,122 386,123.8 385.6,125.8 385.2,128 384.3,130 383.3,131.9 382.3,133.9 381.2,135.8 379.7,137.5 378,139 376.1,140.3 374.5,141.9 373.1,143.7 371.7,145.5 370.2,146.9 368.8,148.1 367.3,149.2 365.8,150 364.4,150.8 363,151.6 361.6,152.5 360.1,153.1 358.6,153.4 357.1,153.8 355.8,154.6 354.5,155.3 353.1,155.7 351.7,155.8 350.3,156.3 349.1,157.3 347.9,158.2"/>
<polygon fill="#00a0f0" points="346.2,152.9 347.5,152.5 349,152.2 350.4,151.8 351.7,151.2 353.1,150.5 354.4,149.8 355.7,149.1 357.1,148.4 358.6,148 360.1,147.9 361.7,147.5 363,146.5 364.2,145.1 365.5,144 367,143.1 368.3,142.1 369.5,140.5 370.7,139 372.2,137.8 373.8,136.7 375.2,135.4 376.4,133.8 377.4,132.1 378.5,130.6 379.4,128.9 380.3,127.2 381,125.4 381.5,123.6 381.8,121.7 381.8,119.9 381.9,118.4 382.6,117.1 383.4,116.2 383.7,115.4 383.6,114.5 383.5,113.8 383.8,113.1 383.9,112.3 383.5,111.2 383,109.8 383.2,108.4 384,107 385,105.5 385.7,103.8 386.3,102.1 386.8,100.3 387.2,98.5 387.6,96.8 388.1,95.3 388.8,93.8 389.4,92.4 389.6,90.8 389.9,89.2 390.5,87.8 391.5,86.6 392.2,85.2 392.7,83.8 393.3,82.4 394.3,81.3 395.5,80.3 396.3,79 396.7,77.5 397.1,76 397.8,74.8 398.7,73.6 399.6,72.6 400.7,71.7 401.8,70.9 402.8,70 403.7,68.9 404.6,67.9 405.6,67 406.7,66.2 407.7,65.1 408.8,64.1 410.1,63.4 411.6,63.1 413,62.8 414.2,62 415.2,61.1 416.4,60.5 417.7,60.4 419,60.3 420.1,59.9 421.2,59.3 422.4,58.9 423.5,58.5 424.6,58.1 425.7,58 426.8,58.2 427.9,58.5 428.9,58.7 430,59 431.1,59.4 432.1,59.9 433.3,59.8 434.4,59.4 435.7,59.2 436.9,59.8 438.2,60.7 439.4,61.4 440.7,61.6 441.9,61.8 443.1,62.4 444.2,62.7 445.3,62.8 446.4,62.8 447.5,62.9 448.6,63.2 449.7,63.4 450.8,63.5 451.9,63.7 453.1,63.9 454.3,63.9 455.5,63.9 456.7,64.4 457.9,65.1 459,65.5 460.2,65.3 461.4,64.7 462.4,64.5 463.4,64.5 464.4,64.5 465.3,64.3 466.2,64 467.2,64 468.2,64 469.3,63.6 470.4,62.8 471.5,62 472.7,61.2 473.8,60.4 475.1,59.7 476.4,59 477.7,58.4 478.7,57.5 479.3,56.2 480,55.1 480.9,54.2 481.7,53.2 482.2,52 482.3,50.6 482.6,49.4 483.2,48.4 483.8,47.4 483.9,46.2 484.1,45.1 484.7,44.2 485.6,43.4 486.5,42.7 487.1,41.8 487.7,40.9 487.8,39.9 487.6,38.7 487.3,37.5 487.4,36.5 488,35.7 488.7,34.9 489,33.9 489.2,32.8 489.8,31.7 490.6,30.7 491.1,29.5 491.2,28.2 491.5,26.8 492.2,25.7 493.1,24.7 493.5,23.4 493.5,22.1 493.7,20.9 494.1,19.7 494.6,18.6 495.1,17.5 495.9,16.7 496.7,15.8 497.2,14.7 502,17.7 502.1,19 502.2,20.2 501.9,21.1 501.1,21.8 500.6,22.7 500.5,23.8 500.3,24.9 499.8,25.9 499.2,26.9 499.1,28.3 499.1,29.8 498.8,31.1 498.1,32.4 497.2,33.5 496.4,34.5 495.7,35.5 495.2,36.6 495.4,37.8 495.9,39.1 496.1,40.2 495.6,41.1 495,41.8 494.7,42.8 494.6,43.9 494.1,44.8 493.2,45.6 492.6,46.5 492.4,47.6 492.2,48.7 491.6,49.7 490.5,50.5 489.6,51.5 489,52.7 488.3,54 487.4,55.2 486.4,56.3 485.2,57.4 483.8,58.3 482.4,59.1 481.1,59.9 480.1,61.1 479,62.4 477.7,63.4 476.3,64.4 474.9,65.5 473.6,66.7 472.1,67.5 470.6,67.8 469.2,67.7 468,67.9 466.9,68.4 465.8,68.6 464.8,68.7 463.7,68.6 462.5,68.7 461.4,68.8 460.1,68.9 458.9,69 457.6,69.2 456.2,69.2 455,68.9 453.7,68.6 452.5,68.5 451.3,68.5 450.2,68.1 449.1,67.7 448,67.6 446.9,68.1 445.8,68.5 444.8,68.3 443.8,67.6 442.7,67 441.6,66.6 440.4,66.1 439.2,65.7 438,65.3 436.8,65.2 435.6,65 434.4,64.7 433.3,64.5 432.2,64.3 431.2,64.1 430.1,63.6 429.1,63.1 428.2,63 427.2,63.2 426.2,63.1 425.1,62.6 424,62.3 423,62.7 422,63.5 421.1,64.2 420,64.6 419,64.9 417.9,65.3 416.8,65.7 415.7,65.9 414.4,66.2 413.3,66.7 412.2,67.3 411.1,68.1 410.1,69 409.3,70.1 408.5,71 407.4,71.6 406.2,72 405.2,72.8 404.6,74 404,75.1 403.1,76 402.1,76.7 401.2,77.7 400.7,79 400.3,80.3 399.6,81.4 398.9,82.6 398.4,84 398,85.4 397.4,86.7 396.7,87.9 396,89.1 395.2,90.3 394.4,91.5 393.9,92.8 393.9,94.5 394.1,96.2 393.9,97.8 393.1,99.1 392.3,100.5 391.8,102.1 391.4,103.9 390.7,105.5 389.7,107 389,108.6 388.9,110.1 388.9,111.6 388.8,112.7 388.5,113.6 388.4,114.4 388.5,115.2 388.5,116 388.6,116.9 388.6,117.9 388.2,119.1 387.4,120.5 386.4,121.9 385.7,123.6 385.3,125.7 384.9,127.8 384,129.8 383,131.7 382.2,133.7 381,135.6 379.6,137.4 377.9,138.8 376,140.1 374.4,141.6 373,143.5 371.6,145.2 370.1,146.7 368.7,147.9 367.2,149 365.7,149.7 364.3,150.5 362.9,151.4 361.5,152.3 360,152.8 358.5,153.1 357.1,153.5 355.7,154.3 354.4,155 353,155.4 351.6,155.5 350.2,156 349,157 347.8,157.9"/>
<polygon fill="#00f0e6" points="346.3,153.3 347.6,152.8 349.1,152.4 350.5,152.1 351.8,151.5 353.2,150.8 354.5,150.1 355.8,149.3 357.2,148.7 358.7,148.3 360.2,148.1 361.7,147.7 363.1,146.7 364.3,145.4 365.6,144.3 367.1,143.4 368.4,142.4 369.6,140.8 370.9,139.2 372.3,138 373.9,136.9 375.4,135.6 376.6,134 377.7,132.3 378.8,130.8 379.7,129.1 380.5,127.4 381.2,125.6 381.8,123.7 382,121.8 382.1,120 382.3,118.5 382.9,117.3 383.7,116.3 384,115.4 383.9,114.6 383.8,113.8 384,113.2 384.1,112.4 383.8,111.3 383.3,109.9 383.5,108.5 384.3,107.1 385.3,105.6 386,103.9 386.6,102.2 387.1,100.4 387.5,98.6 387.9,96.9 388.4,95.4 389.1,94 389.6,92.5 389.9,90.9 390.1,89.3 390.8,87.9 391.8,86.7 392.5,85.4 393,83.9 393.6,82.6 394.6,81.5 395.7,80.5 396.5,79.2 396.9,77.7 397.4,76.3 398,75 398.9,73.9 399.9,72.9 400.9,72 402,71.1 403,70.2 403.9,69.2 404.8,68.2 405.9,67.4 406.9,66.5 407.9,65.4 409,64.3 410.2,63.6 411.7,63.4 413.1,63 414.3,62.3 415.3,61.4 416.5,60.8 417.8,60.7 419,60.6 420.2,60.2 421.3,59.6 422.4,59.1 423.5,58.7 424.6,58.4 425.7,58.3 426.8,58.5 427.9,58.8 428.9,59 430,59.2 431.1,59.7 432.1,60.1 433.3,60.1 434.4,59.7 435.7,59.6 436.9,60.2 438.2,61.1 439.4,61.7 440.7,61.9 441.9,62.2 443,62.7 444.2,63 445.3,63.2 446.4,63.1 447.5,63.2 448.6,63.5 449.6,63.6 450.7,63.8 451.9,64 453,64.2 454.2,64.2 455.5,64.2 456.7,64.7 457.8,65.4 459,65.7 460.2,65.5 461.4,65 462.4,64.7 463.4,64.8 464.4,64.8 465.3,64.6 466.2,64.3 467.2,64.3 468.3,64.3 469.4,63.9 470.6,63.3 471.8,62.6 473,61.9 474.4,61.3 476,60.9 477.1,61.1 476.8,62.1 475.7,63.5 474.5,64.8 473.3,66.1 471.9,67.1 470.5,67.4 469.1,67.4 468,67.7 466.9,68.1 465.8,68.3 464.7,68.4 463.6,68.4 462.5,68.5 461.4,68.6 460.1,68.7 458.9,68.8 457.6,69 456.3,69 455,68.7 453.8,68.3 452.5,68.2 451.3,68.2 450.2,67.9 449.2,67.4 448.1,67.4 447,67.8 445.9,68.2 444.8,68 443.8,67.3 442.7,66.7 441.6,66.2 440.4,65.8 439.2,65.4 438,65 436.8,64.8 435.6,64.6 434.4,64.4 433.3,64.2 432.2,64.1 431.2,63.8 430.1,63.3 429.1,62.8 428.1,62.7 427.2,62.9 426.2,62.8 425.1,62.3 424,62.1 422.9,62.5 422,63.3 421,63.9 420,64.3 418.9,64.6 417.8,65 416.7,65.4 415.6,65.7 414.3,66 413.1,66.4 412,67 410.9,67.8 409.9,68.7 409.1,69.7 408.2,70.6 407.1,71.3 406,71.8 405,72.5 404.4,73.7 403.8,74.8 402.8,75.7 401.8,76.4 400.9,77.4 400.4,78.7 400,80.1 399.3,81.3 398.6,82.4 398.1,83.8 397.7,85.2 397.1,86.5 396.4,87.7 395.7,88.9 394.9,90.1 394.2,91.3 393.6,92.7 393.6,94.3 393.8,96.1 393.6,97.6 392.8,99 392,100.4 391.5,102 391.1,103.8 390.4,105.4 389.4,106.9 388.7,108.5 388.6,110 388.6,111.5 388.5,112.6 388.2,113.5 388.1,114.3 388.2,115.1 388.3,115.9 388.3,116.8 388.3,117.8 387.9,119 387.1,120.3 386.1,121.8 385.5,123.5 385.1,125.6 384.6,127.7 383.8,129.6 382.8,131.6 382,133.6 380.9,135.5 379.5,137.2 377.7,138.6 375.9,139.9 374.3,141.4 372.9,143.2 371.5,144.9 370,146.4 368.6,147.7 367.1,148.7 365.7,149.5 364.2,150.3 362.8,151.2 361.4,152 360,152.6 358.4,152.8 357,153.2 355.6,154 354.3,154.8 353,155.1 351.5,155.3 350.1,155.8 348.9,156.7 347.7,157.6"/>
<polygon fill="#00f0e6" points="483.6,55.3 483.3,54.3 483.5,52.8 483.5,51.2 483.7,49.9 484.2,48.8 484.8,47.8 485.1,46.8 485.4,45.7 485.9,44.8 486.7,43.9 487.6,43.2 488.3,42.3 488.8,41.4 489,40.3 488.7,39.2 488.4,38 488.6,37 489.2,36.2 489.8,35.4 490.2,34.4 490.3,33.2 490.8,32.2 491.5,31.1 492,29.9 492.1,28.5 492.4,27.2 493,26 493.8,24.9 494.2,23.7 494.3,22.4 494.4,21.2 494.7,20 495.3,18.9 496,18 496.8,17.1 497.5,16.2 497.8,15.1 501.3,17.3 501.4,18.5 501.4,19.7 501,20.6 500.3,21.4 499.8,22.3 499.7,23.4 499.6,24.6 499.1,25.6 498.5,26.7 498.3,28 498.2,29.4 497.9,30.8 497.2,32 496.3,33.1 495.3,34.1 494.5,35 494.1,36.1 494.3,37.3 494.7,38.6 494.8,39.7 494.4,40.6 493.9,41.4 493.6,42.3 493.4,43.4 492.8,44.3 492,45.1 491.4,46 491.2,47 490.9,48.1 490.4,49.2 489.5,50 488.6,51 487.9,52.1 487.2,53.3 486.1,54.4 484.8,55.3"/>
<polygon fill="#00f07d" points="346.4,153.6 347.7,153.1 349.1,152.7 350.6,152.3 351.9,151.8 353.2,151.1 354.5,150.4 355.9,149.6 357.3,148.9 358.7,148.6 360.3,148.4 361.8,147.9 363.1,146.9 364.4,145.6 365.7,144.5 367.2,143.7 368.5,142.6 369.7,141 371,139.4 372.4,138.2 374,137.1 375.5,135.8 376.8,134.2 377.9,132.5 379,131 379.9,129.3 380.8,127.6 381.5,125.7 382,123.8 382.2,121.9 382.3,120.1 382.5,118.6 383.2,117.4 383.9,116.4 384.2,115.5 384.1,114.7 384.1,113.9 384.3,113.2 384.4,112.4 384.1,111.4 383.7,110 383.8,108.6 384.6,107.2 385.5,105.7 386.3,104 386.9,102.3 387.4,100.5 387.8,98.7 388.2,97.1 388.7,95.5 389.4,94.1 389.9,92.6 390.1,91 390.4,89.4 391.1,88.1 392,86.8 392.8,85.5 393.3,84.1 393.9,82.8 394.9,81.6 396,80.6 396.8,79.4 397.2,78 397.7,76.5 398.4,75.3 399.3,74.2 400.2,73.2 401.2,72.3 402.2,71.4 403.2,70.5 404.1,69.5 405.1,68.6 406.1,67.7 407.2,66.8 408.1,65.7 409.1,64.7 410.4,64 411.8,63.6 413.2,63.3 414.4,62.5 415.4,61.7 416.6,61.1 417.9,61 419.1,60.8 420.2,60.4 421.3,59.9 422.4,59.3 423.5,58.9 424.7,58.6 425.8,58.6 426.9,58.8 427.9,59 429,59.2 430,59.5 431.1,60 432.2,60.4 433.3,60.4 434.4,60.1 435.7,60 436.9,60.5 438.1,61.4 439.4,62 440.6,62.3 441.9,62.5 443,63 444.1,63.3 445.3,63.5 446.4,63.5 447.5,63.5 448.5,63.7 449.6,63.9 450.7,64.1 451.8,64.3 453,64.5 454.2,64.5 455.4,64.5 456.6,65 457.8,65.6 459,65.9 460.2,65.7 461.4,65.2 462.4,65 463.4,65 464.4,65 465.3,64.9 466.3,64.6 467.3,64.5 468.4,64.6 469.6,64.4 470.8,63.9 472.3,63.7 473.2,64 472.8,64.9 471.7,66.4 470.4,67 469.1,67.1 467.9,67.4 466.8,67.8 465.8,68.1 464.7,68.2 463.6,68.2 462.5,68.2 461.4,68.4 460.1,68.5 458.9,68.6 457.6,68.8 456.3,68.7 455,68.4 453.8,68.1 452.6,67.9 451.4,67.9 450.2,67.6 449.2,67.2 448.1,67.1 447,67.5 445.9,67.9 444.8,67.7 443.8,67 442.7,66.4 441.6,65.9 440.4,65.4 439.2,65 438,64.7 436.8,64.5 435.6,64.3 434.4,64.1 433.3,63.9 432.2,63.8 431.2,63.5 430.1,63 429.1,62.5 428.1,62.4 427.2,62.6 426.1,62.5 425.1,62 424,61.9 422.9,62.2 421.9,63 420.9,63.7 419.9,64 418.8,64.3 417.7,64.7 416.6,65.1 415.5,65.4 414.2,65.7 413,66.1 411.8,66.7 410.7,67.4 409.7,68.3 408.9,69.4 408,70.3 406.9,70.9 405.7,71.5 404.8,72.3 404.1,73.4 403.5,74.5 402.5,75.4 401.5,76.1 400.6,77.2 400.1,78.5 399.7,79.8 399.1,81.1 398.4,82.3 397.8,83.6 397.3,84.9 396.8,86.3 396.2,87.5 395.4,88.8 394.7,90 393.9,91.2 393.4,92.6 393.3,94.2 393.5,95.9 393.3,97.5 392.5,98.8 391.7,100.3 391.2,101.9 390.8,103.7 390.1,105.3 389.1,106.8 388.5,108.4 388.3,109.9 388.2,111.4 388.2,112.6 388,113.5 387.9,114.3 387.9,115 388,115.8 388.1,116.7 388,117.7 387.6,118.9 386.8,120.2 385.9,121.7 385.3,123.4 384.9,125.4 384.4,127.5 383.5,129.5 382.6,131.4 381.8,133.4 380.7,135.3 379.4,137.1 377.6,138.5 375.8,139.7 374.2,141.2 372.8,143 371.4,144.7 369.9,146.2 368.5,147.4 367.1,148.4 365.6,149.3 364.1,150.1 362.7,151 361.4,151.8 359.9,152.3 358.4,152.6 356.9,153 355.6,153.7 354.3,154.5 352.9,154.9 351.4,155.1 350.1,155.5 348.8,156.4 347.6,157.3"/>
<polygon fill="#00f07d" points="486.1,50.5 485.7,49.6 486.2,48.5 486.8,47.5 487.8,46.7 488.4,46.4 488.6,47.1 488.7,48.4 488.1,49.4 487.1,50.3"/>
<polygon fill="#00f07d" points="491.1,40.7 490.3,39.9 490.1,38.7 490.3,37.8 490.9,36.9 492.1,36.9 493,37.9 493.1,39 492.8,39.9 492.2,40.7"/>
<polygon fill="#00f07d" points="492.8,33.7 492.5,32.9 492.7,31.6 493,30.3 493.1,28.9 493.3,27.6 493.9,26.3 494.5,25.2 494.9,24 495,22.7 495.2,21.5 495.5,20.4 496.1,19.4 497,18.5 497.9,17.7 498.4,16.8 498.7,15.6 500.5,16.7 500.4,18 500.3,19.1 499.9,20.1 499.4,21 499,21.9 498.9,23.1 498.8,24.2 498.3,25.3 497.7,26.4 497.4,27.7 497.3,29.1 496.9,30.4 496.2,31.6 495.1,32.6 493.6,33.4"/>
<polygon fill="#c8fa28" points="346.5,153.9 347.8,153.4 349.2,153 350.6,152.6 352,152 353.3,151.4 354.6,150.6 356,149.9 357.3,149.2 358.8,148.8 360.4,148.6 361.9,148.1 363.2,147.1 364.5,145.9 365.8,144.8 367.3,144 368.6,142.9 369.9,141.3 371.1,139.7 372.5,138.4 374.1,137.3 375.6,136 376.9,134.4 378.1,132.7 379.2,131.1 380.1,129.5 381.1,127.8 381.8,125.9 382.2,124 382.4,122 382.5,120.2 382.8,118.7 383.5,117.5 384.2,116.5 384.5,115.6 384.4,114.8 384.4,114 384.6,113.3 384.7,112.5 384.4,111.5 384,110.1 384.2,108.7 384.9,107.3 385.8,105.8 386.6,104.1 387.1,102.4 387.6,100.6 388,98.8 388.5,97.2 389.1,95.7 389.7,94.2 390.1,92.7 390.3,91.1 390.6,89.5 391.3,88.2 392.3,87 393,85.7 393.6,84.3 394.3,83 395.3,81.9 396.3,80.8 397.1,79.7 397.6,78.3 398.2,76.9 398.9,75.7 399.8,74.7 400.8,73.7 401.7,72.8 402.7,71.8 403.6,70.9 404.6,70.1 405.7,69.3 406.6,68.4 407.5,67.4 408.4,66.3 409.4,65.2 410.6,64.4 412,64 413.3,63.5 414.5,62.8 415.6,62 416.7,61.4 417.9,61.2 419.2,61.1 420.3,60.7 421.4,60.1 422.5,59.6 423.6,59.2 424.7,58.9 425.8,58.9 426.9,59.1 427.9,59.3 429,59.5 430,59.8 431.1,60.3 432.2,60.7 433.3,60.7 434.4,60.4 435.7,60.3 436.9,60.9 438.1,61.8 439.4,62.5 440.6,62.8 441.8,62.9 443,63.3 444.1,63.7 445.2,63.8 446.3,63.8 447.4,63.8 448.5,63.9 449.6,64.1 450.7,64.3 451.8,64.6 453,64.7 454.2,64.7 455.4,64.8 456.6,65.2 457.8,65.8 459,66.1 460.2,65.9 461.4,65.5 462.4,65.2 463.4,65.3 464.4,65.3 465.4,65.1 466.3,64.9 467.4,64.9 468.5,65 469.8,65.1 470.6,65.4 470.1,66.1 469,66.7 467.8,67.1 466.8,67.5 465.7,67.8 464.7,67.9 463.6,67.9 462.5,68 461.4,68.1 460.1,68.3 458.9,68.4 457.6,68.5 456.3,68.4 455.1,68.1 453.8,67.8 452.6,67.7 451.4,67.6 450.3,67.3 449.2,66.9 448.1,66.9 447,67.3 445.9,67.6 444.9,67.3 443.8,66.7 442.8,66.1 441.6,65.5 440.5,64.9 439.3,64.6 438,64.3 436.8,64.1 435.6,63.9 434.4,63.7 433.3,63.6 432.2,63.5 431.1,63.2 430.1,62.7 429.1,62.2 428.1,62.1 427.1,62.2 426.1,62.1 425,61.7 423.9,61.6 422.9,62 421.9,62.7 420.9,63.4 419.8,63.8 418.7,64.1 417.6,64.4 416.5,64.8 415.3,65.1 414.1,65.4 412.8,65.8 411.6,66.3 410.5,67 409.4,67.9 408.5,68.9 407.5,69.7 406.4,70.2 405.3,70.9 404.4,71.8 403.7,73 403,74.1 402,74.9 400.9,75.7 400.1,76.7 399.6,78.1 399.3,79.5 398.7,80.8 398.1,82.1 397.5,83.4 397,84.7 396.5,86.1 395.9,87.4 395.2,88.6 394.4,89.8 393.6,91.1 393.1,92.5 393.1,94.1 393.2,95.8 392.9,97.3 392.2,98.7 391.4,100.2 391,101.8 390.6,103.6 389.8,105.2 388.9,106.8 388.2,108.3 387.9,109.8 387.9,111.3 387.9,112.5 387.7,113.4 387.6,114.2 387.6,114.9 387.7,115.7 387.8,116.6 387.7,117.7 387.3,118.8 386.5,120.1 385.6,121.6 385,123.3 384.7,125.3 384.1,127.3 383.2,129.2 382.4,131.2 381.6,133.3 380.6,135.2 379.2,136.9 377.5,138.3 375.7,139.6 374.1,141 372.6,142.8 371.2,144.5 369.8,145.9 368.4,147.1 367,148.2 365.5,149 364.1,149.9 362.7,150.8 361.3,151.6 359.8,152 358.3,152.3 356.8,152.7 355.5,153.5 354.2,154.2 352.8,154.6 351.3,154.8 350,155.3 348.7,156.1 347.5,156.9"/>
<polygon fill="#c8fa28" points="496.4,25.2 496.1,24.4 496.3,23.3 496.5,22.1 497.3,21.8 497.6,22.5 497.5,23.7 497.2,24.9"/>
<polygon fill="#fab41e" points="346.6,154.3 348,153.8 349.3,153.3 350.7,152.9 352.1,152.4 353.4,151.7 354.7,151 356.1,150.2 357.4,149.5 358.9,149.2 360.5,148.9 361.9,148.4 363.3,147.4 364.6,146.1 365.9,145.1 367.4,144.3 368.8,143.2 370,141.6 371.2,139.9 372.6,138.6 374.2,137.4 375.8,136.1 377.1,134.6 378.3,132.9 379.4,131.3 380.4,129.7 381.7,128.2 382.3,126.2 382.5,124.1 382.7,122.2 382.8,120.4 383.2,118.8 383.8,117.6 384.5,116.6 384.8,115.7 384.7,114.9 384.7,114.1 384.9,113.4 385,112.6 384.8,111.6 384.4,110.3 384.6,108.8 385.2,107.4 386.1,105.9 386.9,104.2 387.4,102.5 387.9,100.7 388.3,99 388.8,97.3 389.5,95.9 390.1,94.4 390.4,92.9 390.6,91.3 391,89.7 391.7,88.4 392.6,87.2 393.4,85.9 394.2,84.7 395,83.4 396.3,82.6 396.8,82.1 396.6,82.8 396.4,84.3 396,85.8 395.5,87.2 394.8,88.4 394.1,89.7 393.3,90.9 392.8,92.3 392.8,93.9 392.8,95.6 392.5,97.2 391.9,98.6 391.1,100.1 390.7,101.7 390.3,103.5 389.5,105.1 388.6,106.7 387.8,108.2 387.5,109.7 387.5,111.1 387.5,112.4 387.4,113.3 387.3,114.1 387.3,114.8 387.4,115.6 387.5,116.5 387.4,117.6 387,118.7 386.2,120 385.3,121.4 384.8,123.2 384.4,125.1 383.5,127 382.5,128.8 382.1,131 381.4,133 380.3,134.9 379,136.7 377.3,138.1 375.5,139.4 373.9,140.8 372.5,142.5 371.1,144.2 369.7,145.6 368.3,146.8 366.9,147.8 365.4,148.8 364,149.6 362.6,150.6 361.2,151.3 359.7,151.7 358.2,151.9 356.7,152.4 355.4,153.1 354.1,153.9 352.7,154.3 351.2,154.5 349.9,154.9 348.6,155.6 347.3,156.5"/>
<polygon fill="#fab41e" points="414.3,64.3 414.7,63.4 415.7,62.5 416.8,61.9 418.1,61.6 419.3,61.5 420.4,61.1 421.5,60.5 422.5,59.9 423.6,59.5 424.7,59.3 425.8,59.4 426.9,59.6 428,59.8 429,59.9 430,60.2 431.1,60.7 432.2,61 433.3,61.1 434.4,60.9 435.6,60.9 436.9,61.5 437.5,62.6 436.8,63.5 435.6,63.3 434.4,63.2 433.3,63.2 432.2,63.2 431.1,62.8 430.1,62.3 429.1,61.8 428.1,61.7 427.1,61.8 426.1,61.7 425,61.4 423.9,61.3 422.8,61.7 421.8,62.3 420.8,63 419.7,63.4 418.6,63.7 417.5,64 416.4,64.3 415.2,64.6"/>
<polygon fill="#fab41e" points="442.3,64.6 442.9,63.9 444.1,64.1 445.2,64.3 446.3,64.2 447.4,64.1 448.5,64.2 449.5,64.4 450.6,64.7 451.7,65 452.9,65.1 454.1,65.1 455.4,65.2 456.6,65.6 457.8,66.1 459,66.4 460.2,66.2 461.4,65.8 462.4,65.5 463.5,65.6 464.5,65.6 465.4,65.5 466.4,65.4 467.5,65.5 468.1,65.8 467.7,66.4 466.7,67 465.7,67.4 464.7,67.6 463.6,67.6 462.5,67.7 461.4,67.8 460.2,68 458.9,68.2 457.6,68.2 456.4,68.1 455.1,67.7 453.9,67.4 452.6,67.3 451.5,67.2 450.3,66.9 449.3,66.6 448.2,66.6 447.1,66.9 446,67.1 444.9,66.9 443.9,66.3 442.8,65.5"/>
<polygon fill="#fa501e" points="357.1,151 357.6,150.2 359.1,149.7 360.6,149.3 362,148.7 363.4,147.7 364.7,146.5 366.1,145.6 367.5,144.7 369,143.7 370.2,142 371.4,140.3 372.8,138.8 374.4,137.7 375.9,136.4 377.4,134.9 378.6,133.3 379.7,131.6 380.9,131.4 381,132.7 380,134.6 378.7,136.4 377.1,137.9 375.4,139.2 373.8,140.6 372.3,142.1 370.9,143.7 369.5,145.1 368.1,146.3 366.7,147.4 365.3,148.4 363.9,149.3 362.5,150.2 361.1,150.9 359.5,151.1 357.9,151.2"/>
<polygon fill="#fa501e" points="383.3,123.5 383,122.3 383.2,120.5 383.6,119 384.3,117.8 385,116.7 385.3,115.8 385.3,115 385.4,114.3 385.6,113.6 385.7,112.8 385.5,111.8 385.3,110.5 385.3,109.1 385.9,107.6 386.7,106.1 387.4,104.4 387.9,102.6 388.3,100.9 388.8,99.1 389.4,97.6 390.1,96.1 390.8,94.7 391.1,93.2 391.2,91.5 391.5,90 392.4,88.7 393.2,88.4 393.5,89.3 392.8,90.6 392.3,92.1 392.2,93.7 392.1,95.3 391.9,96.9 391.3,98.4 390.7,99.9 390.3,101.6 389.8,103.3 389,105 388,106.5 387.2,108 386.8,109.5 386.7,110.9 386.8,112.2 386.7,113.1 386.5,113.9 386.6,114.6 386.8,115.5 387,116.4 387,117.4 386.5,118.5 385.7,119.8 384.9,121.3 384.5,123"/>
<polygon fill="#fa501e" points="445.6,65.5 446.2,65 447.3,64.6 448.4,64.7 449.5,65 450,65.6 449.3,66 448.2,66.1 447.1,66.4 446.1,66.3"/>
<polygon fill="#fa501e" points="454.6,66.4 455.3,65.9 456.5,66.2 457.7,66.8 458.3,67.2 457.7,67.5 456.4,67.3 455.2,66.9"/>
<polygon fill="#fa501e" points="460.8,66.8 461.4,66.4 462.5,66.2 463.5,66.3 464,66.5 463.5,66.8 462.5,66.9 461.4,67.1"/>
<polygon fill="#fa141e" points="374.1,139.2 374.7,138.1 376.4,136.9 377.2,136.2 376.6,137.2 375,138.6"/>
</g>
<path d="M325.7 7.5 V185.7 H531.5" fill="none" stroke="#8a8a8a" stroke-width="0.9"/>
<path d="M325.7 7.5h2.2M325.7 37.2h2.2M325.7 66.9h2.2M325.7 96.6h2.2M325.7 126.3h2.2M325.7 156.0h2.2M325.7 185.7h2.2M325.7 185.7v-2.2M355.1 185.7v-2.2M384.5 185.7v-2.2M413.9 185.7v-2.2M443.3 185.7v-2.2M472.7 185.7v-2.2M502.1 185.7v-2.2M531.5 185.7v-2.2" fill="none" stroke="#8a8a8a" stroke-width="0.9"/>
<text x="321.4" y="12.3" font-size="10.7" text-anchor="end">3317</text>
<text x="321.4" y="71.7" font-size="10.7" text-anchor="end">3315</text>
<text x="320.7" y="130.8" font-size="10.7" text-anchor="end">3313</text>
<text x="319.7" y="186.2" font-size="10.7" text-anchor="end">3311</text>
<text x="329.0" y="199.3" font-size="10.7" text-anchor="middle">371</text>
<text x="384.6" y="198.0" font-size="10.7" text-anchor="middle">373</text>
<text x="441.2" y="197.7" font-size="10.7" text-anchor="middle">375</text>
<text x="499.7" y="197.0" font-size="10.7" text-anchor="middle">377</text>
<text x="337.7" y="12.1" font-size="11.0">(b)</text>
<text transform="translate(293.1 95.5) rotate(-90)" font-size="10.5" text-anchor="middle" stroke-width="0.08">Y (km)</text>
<text x="436.0" y="212.3" font-size="10.5" text-anchor="middle" stroke-width="0.08">X (km)</text>
<rect x="525.0" y="151.16" width="6.5" height="13.74" fill="#1c0088"/>
<rect x="525.0" y="137.56" width="6.5" height="13.74" fill="#2d00d4"/>
<rect x="525.0" y="123.97" width="6.5" height="13.74" fill="#1036f2"/>
<rect x="525.0" y="110.37" width="6.5" height="13.74" fill="#00a0f0"/>
<rect x="525.0" y="96.78" width="6.5" height="13.74" fill="#00f0e6"/>
<rect x="525.0" y="83.18" width="6.5" height="13.74" fill="#00f07d"/>
<rect x="525.0" y="69.59" width="6.5" height="13.74" fill="#c8fa28"/>
<rect x="525.0" y="55.99" width="6.5" height="13.74" fill="#fab41e"/>
<rect x="525.0" y="42.40" width="6.5" height="13.74" fill="#fa501e"/>
<rect x="525.0" y="28.80" width="6.5" height="13.74" fill="#fa141e"/>
<rect x="525.0" y="22.00" width="6.5" height="6.95" fill="#8c0f14"/>
<text x="525.5" y="18.0" font-size="7.6">N/m<tspan font-size="5.0" dy="-3.0">2</tspan></text>
<text x="535.5" y="32.0" font-size="7.6">7.5</text>
<text x="535.5" y="59.5" font-size="7.6">6.0</text>
<text x="535.5" y="87.0" font-size="7.6">4.5</text>
<text x="535.5" y="112.5" font-size="7.6">3.0</text>
<text x="535.5" y="140.5" font-size="7.6">1.5</text>
<text x="536.2" y="166.7" font-size="7.6">0</text>
</g>
<g id="panel-c">
<g class="river" filter="url(#soft)">
<polygon fill="#1c0088" points="63.7,379.1 65.1,378.6 66.5,378.1 68,377.7 69.4,377.2 70.8,376.7 72.2,376.2 73.6,375.5 75,374.8 76.4,374.1 77.7,373.2 79.1,372.3 80.4,371.3 81.7,370.4 82.9,369.3 84.2,368.3 85.3,367.2 86.4,366.1 87.5,365 88.5,363.9 89.5,362.7 90.4,361.5 91.3,360.3 92.2,359 93,357.8 93.8,356.5 94.5,355.2 95.2,353.8 95.9,352.4 96.5,351 97.1,349.6 97.6,348.4 98.1,347.2 98.5,346.3 98.9,345.5 99.1,344.8 99.3,344.1 99.5,343.4 99.8,342.6 100.1,341.7 100.5,340.6 100.9,339.2 101.5,337.6 102.1,335.9 102.7,334.1 103.4,332.2 104,330.4 104.7,328.6 105.3,327 105.9,325.4 106.5,323.8 107.2,322.3 107.8,320.8 108.4,319.3 109.1,317.8 109.8,316.4 110.5,314.9 111.2,313.5 111.9,312.1 112.7,310.8 113.5,309.4 114.3,308.1 115.1,306.9 116,305.6 116.8,304.4 117.7,303.2 118.6,302 119.5,300.9 120.5,299.7 121.4,298.7 122.4,297.6 123.5,296.6 124.6,295.7 125.8,294.8 127,294 128.3,293.2 129.6,292.4 131,291.7 132.3,291.1 133.6,290.4 134.9,289.8 136.2,289.3 137.4,288.8 138.6,288.4 139.8,288 141.1,287.6 142.3,287.3 143.4,287 144.6,286.7 145.7,286.5 146.9,286.3 147.9,286.1 149,286 150.1,285.9 151.2,285.9 152.3,285.9 153.5,285.9 154.7,285.9 156,286 157.3,286.1 158.6,286.2 160,286.4 161.3,286.6 162.6,286.7 163.8,286.9 165,287.1 166.2,287.3 167.3,287.6 168.4,287.8 169.6,288.1 170.7,288.3 171.8,288.6 172.9,288.8 174,289 175.2,289.3 176.3,289.6 177.5,289.9 178.6,290.1 179.7,290.3 180.8,290.5 181.8,290.6 182.7,290.6 183.6,290.6 184.4,290.6 185.2,290.5 186,290.4 186.8,290.2 187.7,290 188.6,289.6 189.5,289.2 190.5,288.7 191.6,288.2 192.7,287.6 193.8,286.9 194.8,286.2 195.8,285.5 196.6,284.7 197.4,283.9 198.2,283 198.9,282.1 199.5,281.1 200.2,280.1 200.8,279.1 201.3,278.1 201.9,277.1 202.4,276.1 202.9,275.1 203.4,274.1 203.9,273.1 204.3,272.1 204.7,271.1 205.1,270.1 205.5,269.1 205.9,268.2 206.2,267.2 206.6,266.3 206.9,265.3 207.2,264.4 207.5,263.4 207.9,262.4 208.3,261.3 208.7,260.2 209.2,259 209.7,257.8 210.2,256.6 210.8,255.4 211.3,254.1 211.8,252.9 212.3,251.7 212.8,250.5 213.2,249.3 213.7,248.1 214.1,246.9 214.5,245.7 215,244.5 215.4,243.3 215.8,242.1 227.4,249.6 227.1,250.4 226.8,251.3 226.5,252.1 226.2,252.9 225.9,253.7 225.6,254.6 225.2,255.6 224.8,256.6 224.3,257.7 223.8,258.9 223.2,260.2 222.6,261.6 222,262.9 221.4,264.2 220.9,265.5 220.4,266.6 219.9,267.7 219.5,268.7 219.1,269.6 218.8,270.6 218.4,271.5 218,272.4 217.6,273.3 217.1,274.3 216.7,275.3 216.2,276.2 215.8,277.2 215.3,278.2 214.8,279.2 214.2,280.3 213.5,281.4 212.8,282.5 212,283.7 211.1,285.1 210.2,286.4 209.2,287.8 208.1,289.2 207,290.5 205.8,291.7 204.5,292.9 203.1,293.9 201.5,294.9 199.9,295.9 198.1,296.8 196.4,297.6 194.7,298.4 193.1,299 191.6,299.6 190.2,300 188.9,300.3 187.7,300.5 186.5,300.6 185.4,300.7 184.2,300.7 183,300.8 181.8,300.8 180.5,300.9 179.2,300.9 177.8,301 176.5,301 175.2,301 173.9,300.9 172.6,300.9 171.4,300.8 170.2,300.7 169.1,300.6 168.1,300.5 167,300.4 166,300.2 164.9,300.1 163.9,299.9 162.8,299.8 161.7,299.6 160.5,299.5 159.3,299.3 158.1,299.1 156.9,298.9 155.7,298.8 154.6,298.6 153.5,298.5 152.5,298.4 151.5,298.3 150.5,298.2 149.6,298 148.7,298 147.7,297.9 146.8,298 145.9,298.1 145,298.3 144.1,298.6 143.2,298.9 142.3,299.3 141.4,299.7 140.5,300.1 139.6,300.6 138.7,301.1 137.9,301.7 137,302.2 136.1,302.8 135.3,303.5 134.4,304.1 133.6,304.8 132.8,305.5 132,306.3 131.2,307 130.5,307.7 129.8,308.5 129.1,309.2 128.4,310.1 127.8,310.9 127.1,311.8 126.5,312.7 125.9,313.8 125.3,314.8 124.8,315.9 124.2,317.1 123.7,318.3 123.2,319.5 122.7,320.7 122.2,321.9 121.7,323.2 121.2,324.5 120.8,325.7 120.4,327 120,328.4 119.5,329.7 119,331.1 118.5,332.5 118,334 117.4,335.5 116.8,337.1 116.1,338.7 115.5,340.3 114.9,341.8 114.3,343.2 113.8,344.5 113.4,345.6 113.1,346.5 112.8,347.3 112.6,348 112.3,348.8 112,349.6 111.6,350.6 111,351.8 110.2,353.3 109.4,355.1 108.6,356.9 107.6,358.9 106.5,360.9 105.4,362.9 104.2,364.8 103,366.7 101.6,368.5 100.2,370.4 98.6,372.2 96.9,374.1 95.3,375.8 93.6,377.5 92,379.1 90.5,380.5 89,381.7 87.5,382.8 86,383.8 84.5,384.7 83.1,385.6 81.7,386.3 80.3,387.1 78.8,387.8 77.4,388.5 76.1,389.1 74.7,389.7 73.3,390.2 72,390.7 70.6,391.2 69.3,391.7 67.9,392.2"/>
<polygon fill="#2d00d4" points="65.1,383.5 66.6,383.4 68.1,383.1 69.4,382.2 70.6,381 71.9,380.3 73.4,380 74.9,379.8 76.4,379.5 77.9,379.2 79.4,378.7 80.7,377.6 81.8,376 83,374.6 84.4,373.8 85.9,373 87.1,371.8 88.2,370.3 89.6,369.2 91.1,368.5 92.4,367.2 93.3,365.3 94.2,363.5 95.4,362.2 96.8,361.2 97.4,359.4 97.7,357.4 97.9,355.5 98.1,353.6 98.2,351.8 98.2,350.1 98.7,348.8 99.4,347.7 100,346.7 100.1,345.8 100.2,345.1 100.3,344.4 100.5,343.7 100.5,342.8 100.6,341.9 101,340.7 101.6,339.4 102.3,337.9 102.9,336.2 103.4,334.3 104,332.5 104.6,330.6 105.3,328.9 105.9,327.2 106.5,325.6 107.1,324 107.6,322.5 108.2,321 108.9,319.5 109.6,318.1 110.3,316.6 110.9,315.2 111.6,313.8 112.4,312.4 113.2,311.2 114,309.8 114.7,308.4 115.4,307.1 116.2,305.8 117.1,304.6 118,303.5 118.9,302.3 119.9,301.2 120.8,300.1 121.8,299.1 122.8,298 123.8,297 124.8,296 126,295.1 127.2,294.3 128.5,293.5 129.9,292.9 131.2,292.2 132.5,291.5 133.8,290.8 135.1,290.3 136.3,289.8 137.6,289.5 138.8,289 140,288.5 141.1,288.1 142.3,287.8 143.5,287.5 144.7,287.2 145.8,287.1 146.9,287 148,287 149.1,287 150.1,287 151.2,287 152.3,287 153.5,286.9 154.7,286.9 156,287.1 157.3,287.4 158.6,287.6 159.9,287.8 161.2,288.1 162.4,288.6 163.6,289 164.8,289.3 166,289.3 167.1,289.3 168.3,289.3 169.4,289.6 170.5,289.9 171.6,290.2 172.7,290.3 173.9,290.5 175,290.8 176.2,291.2 177.3,291.6 178.5,291.7 179.6,291.7 180.7,291.6 181.8,291.7 182.8,291.7 183.7,291.7 184.5,291.6 185.3,291.5 186.2,291.4 187,291.2 187.9,291.1 188.9,290.7 189.8,290.1 190.9,289.6 192,289 193.1,288.3 194.2,287.6 195.3,286.9 196.3,286.1 197.2,285.3 198,284.4 198.8,283.6 199.6,282.6 200.2,281.6 200.8,280.5 201.4,279.5 202,278.4 202.6,277.4 203.1,276.4 203.6,275.4 204.1,274.4 204.6,273.5 205.1,272.5 205.6,271.5 206,270.5 206.4,269.5 206.7,268.5 207,267.6 207.3,266.6 207.6,265.7 207.9,264.7 208.2,263.7 208.5,262.7 209,261.6 209.5,260.5 210,259.4 210.4,258.1 210.9,256.9 211.5,255.6 212,254.4 212.5,253.2 213,251.9 213.4,250.7 213.8,249.5 214.3,248.4 214.8,247.2 215.3,246.1 215.7,244.9 216.1,243.7 216.5,242.5 226.4,248.9 226.1,249.8 225.8,250.7 225.5,251.5 225.2,252.4 224.8,253.2 224.4,254.1 224,255.1 223.7,256.1 223.2,257.3 222.7,258.5 222.1,259.8 221.6,261.1 221,262.5 220.5,263.8 219.9,265 219.3,266.2 218.8,267.2 218.4,268.2 218.1,269.2 217.8,270.1 217.5,271.1 217.1,272 216.7,272.9 216.3,273.9 215.9,274.9 215.5,275.9 215,276.9 214.4,277.8 213.9,278.8 213.3,279.9 212.7,281 211.9,282.1 211.1,283.3 210.3,284.6 209.4,285.9 208.5,287.3 207.5,288.7 206.4,290 205.2,291.2 203.9,292.3 202.6,293.3 201.1,294.3 199.5,295.3 197.8,296.2 196.1,297 194.5,297.8 192.9,298.5 191.4,299.1 190.1,299.5 188.8,299.7 187.6,299.9 186.4,300 185.3,300.1 184.2,300.2 183,300.2 181.8,300.3 180.5,300.3 179.2,300.3 177.9,300.4 176.6,300.4 175.2,300.4 173.9,300.3 172.7,300.2 171.5,300.1 170.3,300.1 169.2,299.9 168.2,299.7 167.1,299.5 166.1,299.4 165,299.4 163.9,299.3 162.8,299.1 161.7,298.8 160.5,298.5 159.3,298.3 158.1,298.1 156.9,297.8 155.7,297.6 154.6,297.4 153.5,297.1 152.5,297.1 151.4,297.1 150.5,296.9 149.5,296.6 148.6,296.2 147.6,296.1 146.7,296.3 145.7,296.3 144.7,296.3 143.7,296.4 142.8,296.7 141.8,297.2 140.9,297.8 140,298.3 139.1,298.8 138.1,299.4 137.2,299.8 136.1,300.2 135.1,300.7 134.1,301.2 133.1,301.8 132.1,302.4 131.3,303.3 130.7,304.4 130.1,305.4 129.2,306.1 128.1,306.5 127.3,307.3 126.7,308.3 126.1,309.3 125.4,310.2 124.5,311 123.9,312.1 123.3,313.2 122.8,314.4 122.2,315.6 121.7,316.9 121.2,318.2 120.7,319.5 120.2,320.7 119.7,322.1 119.3,323.4 118.7,324.6 117.8,325.8 117.2,327 117,328.6 117.1,330.3 117,331.8 116.3,333.3 115.6,334.8 115.1,336.5 114.6,338.2 113.7,339.7 112.9,341.2 112.3,342.6 112.1,344 112.1,345.2 111.9,346.2 111.7,347 111.6,347.7 111.3,348.5 111,349.3 110.7,350.3 110.4,351.6 109.7,353.1 108.9,354.8 107.8,356.5 106.7,358.4 105.9,360.4 104.9,362.5 103.7,364.4 102.5,366.3 101.3,368.2 99.9,370.1 98.3,371.9 96.7,373.6 94.9,375.2 93.3,376.8 91.7,378.3 90.2,379.8 88.8,381.2 87.3,382.4 85.9,383.4 84.4,384.2 82.9,384.8 81.5,385.7 80.1,386.5 78.7,387.2 77.2,387.7 75.8,388.2 74.5,389 73.2,389.6 71.8,389.9 70.3,390.2 69,390.7 67.7,391.5"/>
<polygon fill="#1036f2" points="65.4,384.5 66.9,384.3 68.4,384 69.7,383.2 70.9,382.1 72.2,381.4 73.7,381.1 75.2,380.9 76.7,380.6 78.2,380.2 79.7,379.7 81,378.6 82.2,377.1 83.4,375.8 84.8,375 86.2,374.1 87.5,372.8 88.6,371.3 90,370.2 91.6,369.4 93,368.1 94,366.3 95,364.5 96.2,363.1 97.6,361.9 98.4,360.2 98.8,358.2 99.1,356.2 99.4,354.3 99.5,352.4 99.6,350.7 100.1,349.3 100.8,348.2 101.5,347.3 101.6,346.3 101.4,345.5 101.5,344.7 101.6,344 101.3,343.1 101.2,342 101.5,340.9 102.2,339.6 103.1,338.1 103.7,336.4 104,334.5 104.5,332.7 105.2,330.8 105.8,329.1 106.4,327.4 107,325.8 107.6,324.3 108.1,322.7 108.7,321.2 109.3,319.7 110,318.3 110.8,316.9 111.4,315.5 112.1,314.1 112.9,312.7 113.7,311.5 114.5,310.2 115.1,308.7 115.8,307.4 116.6,306.1 117.5,305 118.4,303.8 119.3,302.7 120.2,301.6 121.2,300.5 122.1,299.5 123.1,298.4 124.1,297.4 125.1,296.4 126.2,295.5 127.4,294.7 128.7,293.9 130.1,293.3 131.4,292.7 132.7,292 134,291.3 135.2,290.7 136.5,290.4 137.8,290.1 138.9,289.6 140.1,289 141.2,288.5 142.4,288.2 143.6,288 144.7,287.8 145.9,287.7 147,287.8 148.1,288 149.1,288.2 150.2,288.4 151.3,288.6 152.4,288.5 153.5,288.4 154.7,288.4 155.9,288.8 157.2,289.4 158.5,289.8 159.8,290 161.1,290.2 162.3,290.7 163.5,291.3 164.6,291.5 165.8,291.4 166.9,291.5 168,291.7 169.1,292 170.2,292.2 171.3,292.3 172.4,292.4 173.6,292.6 174.8,292.9 176,293.4 177.1,293.8 178.3,293.9 179.5,293.8 180.7,293.6 181.8,293.5 182.8,293.6 183.8,293.7 184.7,293.6 185.6,293.4 186.5,293.4 187.5,293.4 188.5,293.1 189.4,292.6 190.5,291.8 191.6,291.1 192.8,290.5 194,289.8 195.2,289 196.2,288.1 197.2,287.2 198.2,286.3 199.3,285.6 200.3,284.8 201.1,283.8 201.7,282.6 202.1,281.3 202.6,280.2 203.3,279.1 203.9,278.1 204.4,277 204.7,275.9 205.1,274.9 205.9,274 206.8,273.2 207.4,272.3 207.8,271.3 208.2,270.3 208.3,269.2 208.5,268.2 208.7,267.2 209,266.3 209.2,265.3 209.4,264.2 209.6,263.1 210,262.1 210.6,261 211.2,259.9 211.5,258.6 211.9,257.3 212.5,256.1 213.2,254.9 213.7,253.6 213.8,252.3 214,251 214.4,249.8 215.2,248.8 215.9,247.8 216.5,246.7 216.9,245.6 217.2,244.4 217.5,243.1 224.2,247.5 223.9,248.5 223.7,249.5 223.6,250.5 223.1,251.4 222.6,252.2 222.1,253.1 221.8,254.2 221.4,255.3 220.9,256.4 220.4,257.6 219.9,258.9 219.5,260.3 219.1,261.7 218.7,263 218.1,264.3 217.3,265.3 216.6,266.2 216.1,267.2 215.9,268.2 215.9,269.3 215.7,270.3 215.3,271.2 214.9,272.1 214.7,273.2 214.4,274.3 214,275.3 213.3,276.1 212.7,277.1 212.1,278.1 211.6,279.1 210.9,280.1 210.1,281.2 209.4,282.3 208.6,283.6 207.9,285 207.2,286.4 206.3,287.7 205.1,288.9 203.9,290 202.7,291 201.5,292.1 200.2,293.2 198.7,294.2 197.1,295 195.5,295.9 194.1,296.9 192.7,298 191.3,298.6 189.9,299 188.6,299 187.5,299.1 186.3,299.2 185.2,299.4 184.1,299.5 183,299.7 181.8,299.8 180.5,299.7 179.2,299.6 177.9,299.8 176.6,299.9 175.3,299.9 174,299.7 172.8,299.4 171.6,299.4 170.4,299.3 169.3,299 168.3,298.5 167.3,298.3 166.2,298.6 165.1,298.8 164,298.7 162.9,298.4 161.8,297.9 160.6,297.3 159.4,296.8 158.2,296.4 157,296.1 155.8,295.9 154.6,295.5 153.5,295.2 152.4,295.2 151.4,295.3 150.4,295.2 149.4,294.7 148.4,294.4 147.5,294.4 146.5,294.6 145.5,294.7 144.5,294.7 143.5,294.7 142.5,295 141.5,295.6 140.5,296.1 139.6,296.7 138.6,297.3 137.6,297.9 136.6,298.3 135.5,298.6 134.4,299.1 133.3,299.7 132.2,300.2 131.2,300.9 130.3,301.8 129.7,303.1 129.1,304.1 128.1,304.7 127,305.2 126.1,305.9 125.5,307 124.9,308.1 124.1,309 123.2,309.9 122.5,311 121.9,312.2 121.3,313.4 120.7,314.6 120.2,315.9 119.8,317.2 119.2,318.5 118.6,319.8 118.1,321.1 117.7,322.5 117.1,323.8 116.2,324.9 115.4,326.2 115.3,327.8 115.5,329.6 115.3,331.1 114.6,332.6 113.9,334.2 113.5,335.9 112.9,337.6 112.1,339.2 111.1,340.6 110.6,342.1 110.4,343.5 110.5,344.8 110.5,345.8 110.5,346.6 110.4,347.4 110.2,348.1 109.9,348.9 109.8,350 109.8,351.4 109.2,352.9 108.3,354.6 107,356.1 105.9,358 105.3,360.1 104.5,362.2 103.3,364.1 102.2,366 101,367.9 99.6,369.8 98.1,371.6 96.4,373.2 94.7,374.8 93,376.3 91.5,377.9 90,379.3 88.6,380.7 87.2,382 85.7,383 84.2,383.7 82.7,384.4 81.3,385.2 79.9,386.1 78.5,386.7 77,387.1 75.6,387.6 74.3,388.4 73,389.1 71.6,389.5 70.1,389.6 68.8,390.1 67.5,391"/>
<polygon fill="#00a0f0" points="65.7,385.3 67.1,385 68.6,384.6 69.9,383.8 71.1,382.9 72.5,382.2 73.9,381.9 75.4,381.7 77,381.5 78.4,381 79.9,380.4 81.2,379.3 82.4,377.9 83.7,376.7 85.1,375.8 86.5,374.9 87.8,373.5 89,372 90.4,370.9 92,370 93.5,368.7 94.6,367 95.6,365.2 96.8,363.7 98.2,362.4 99.1,360.7 99.6,358.8 100,356.8 100.3,354.8 100.5,352.9 100.8,351.2 101.3,349.8 102.1,348.7 102.7,347.6 102.8,346.7 102.7,345.8 102.8,345.1 102.8,344.3 102.5,343.4 102.2,342.3 102.5,341.1 103.3,339.9 104.3,338.5 104.8,336.8 105.1,334.9 105.4,333 106.1,331.2 106.8,329.5 107.3,327.8 107.9,326.2 108.3,324.6 108.7,323 109.1,321.4 109.9,320 110.8,318.8 111.6,317.4 112.2,316 112.7,314.5 113.6,313.2 114.6,312.1 115.3,310.7 115.7,309.2 116.2,307.7 116.9,306.4 117.9,305.3 118.8,304.2 119.8,303.1 120.7,302.1 121.7,301.1 122.7,300.1 123.5,299 124.4,297.8 125.3,296.8 126.5,295.9 127.7,295 129,294.4 130.4,294 131.8,293.5 133,292.7 134.2,291.9 135.5,291.5 136.8,291.4 138.1,291.3 139.2,290.8 140.3,290 141.4,289.3 142.5,289 143.7,289 144.9,288.9 146,289 147.1,289.1 148.1,289.2 149.2,289.4 150.2,289.7 151.3,289.9 152.4,289.9 153.5,289.9 154.7,289.8 155.9,290.1 157.2,290.6 158.4,291.1 159.7,291.2 161,291.5 162.2,292 163.3,292.7 164.5,292.8 165.6,292.7 166.8,292.7 167.8,293.1 168.9,293.4 170,293.5 171.1,293.6 172.3,293.7 173.4,293.9 174.6,294.2 175.8,294.6 177,295.1 178.2,295.4 179.5,295.2 180.7,294.7 181.8,294.6 182.8,294.7 183.8,294.8 184.8,294.7 185.7,294.6 186.7,294.6 187.8,294.7 188.8,294.4 189.8,293.8 190.9,293.1 192.2,292.6 193.7,292.2 195.4,292.1 196.5,290.9 197.6,289.9 199,289.2 199.9,289.2 199.7,290.1 198.8,291.4 197.4,292.3 195.7,292.8 194.7,294.2 193.5,295.5 192.3,296.8 191,297.8 189.7,298.1 188.5,298.1 187.3,298.2 186.2,298.3 185.2,298.5 184.1,298.7 183,298.8 181.8,298.9 180.6,298.8 179.3,298.8 178,299 176.7,299.2 175.4,299.1 174.1,298.7 172.9,298.5 171.7,298.4 170.5,298.3 169.5,297.9 168.4,297.4 167.4,297.3 166.3,297.6 165.2,297.9 164.1,297.8 163,297.4 161.9,296.8 160.7,296.2 159.5,295.7 158.2,295.3 157,295 155.8,294.6 154.6,294 153.5,293.6 152.4,293.8 151.4,294 150.4,293.9 149.4,293.4 148.4,293 147.4,293 146.4,293.2 145.4,293.4 144.3,293.4 143.3,293.4 142.2,293.8 141.2,294.3 140.2,294.9 139.2,295.4 138.2,296.1 137.2,296.7 136.2,297.1 135,297.5 133.9,297.9 132.7,298.5 131.6,299.1 130.5,299.8 129.7,300.8 129,302.1 128.3,303.1 127.3,303.7 126.1,304.2 125.2,304.9 124.6,306.1 124,307.2 123.2,308.2 122.2,309 121.4,310.1 120.8,311.3 120.2,312.5 119.6,313.8 119.1,315.2 118.6,316.5 118,317.8 117.4,319.1 116.9,320.4 116.5,321.8 115.9,323.1 115,324.3 114.2,325.6 114.1,327.3 114.2,329 114,330.6 113.4,332.1 112.7,333.7 112.2,335.5 111.7,337.2 110.9,338.8 109.9,340.3 109.3,341.7 109.1,343.1 109.2,344.4 109.2,345.4 109.3,346.2 109.2,347 108.9,347.7 108.7,348.5 108.6,349.6 108.7,351 108.3,352.6 107.3,354.1 106,355.6 105,357.4 104.5,359.6 103.8,361.8 102.9,363.7 101.8,365.6 100.7,367.6 99.4,369.5 97.9,371.3 96.2,372.9 94.4,374.3 92.8,375.7 91.2,377.2 89.8,378.7 88.4,380.3 87,381.6 85.6,382.6 84.1,383.2 82.6,383.8 81.2,384.7 79.8,385.6 78.3,386 76.8,386.3 75.4,386.8 74.1,387.7 72.9,388.6 71.4,388.9 69.9,389 68.6,389.4 67.3,390.3"/>
<polygon fill="#00a0f0" points="204.6,283.7 204.2,282.6 204.6,281.3 205.5,280.3 206.2,279.3 206.4,278 206.4,276.7 206.6,275.6 207.3,274.7 208.4,273.9 209.3,273.2 210.3,272.4 211.4,272.3 212.1,273.2 212.2,274.4 211.7,275.4 211.2,276.4 210.5,277.3 209.8,278.3 208.8,279.1 207.7,280 207.1,281.1 206.5,282.4 205.8,283.7"/>
<polygon fill="#00a0f0" points="211.4,271.2 210.8,270.3 210.6,269.1 210.7,268.1 211.1,267.2 211.4,266.2 211.4,265.1 211.4,264 211.7,262.8 212.2,261.7 212.7,260.5 213,259.2 213.5,257.9 214.1,256.7 214.8,255.5 215.2,254.2 215.2,252.8 215.4,251.6 215.9,250.4 216.7,249.5 217.6,248.6 218.2,247.6 218.5,246.5 218.8,245.3 219.1,244.2 222.3,246.2 222,247.3 221.9,248.5 221.7,249.5 221.3,250.5 220.8,251.4 220.3,252.4 220.1,253.5 219.7,254.6 219.1,255.7 218.5,256.9 218,258.2 217.7,259.6 217.4,261 217.1,262.4 216.4,263.5 215.5,264.5 214.5,265.3 213.8,266.2 213.6,267.2 213.7,268.3 213.7,269.4 213.2,270.3 212.4,271"/>
<polygon fill="#00f0e6" points="65.9,386 67.3,385.6 68.8,385.2 70.1,384.5 71.3,383.6 72.7,383 74.2,382.7 75.7,382.6 77.2,382.4 78.7,381.8 80.1,381 81.4,379.9 82.6,378.6 84,377.5 85.4,376.7 86.8,375.6 88,374.2 89.2,372.7 90.7,371.5 92.3,370.6 93.8,369.3 95.1,367.6 96.2,365.8 97.4,364.3 98.8,362.9 99.7,361.3 100.5,359.4 101,357.4 101.4,355.4 101.7,353.5 102,351.8 102.7,350.4 103.4,349.1 104,348.1 104.2,347.1 104.2,346.3 104.2,345.5 104.1,344.7 103.8,343.8 103.7,342.7 104,341.6 104.7,340.3 105.5,338.9 106.1,337.2 106.3,335.3 106.7,333.5 107.4,331.7 108.1,330 108.8,328.4 109.2,326.8 109.5,325.1 109.7,323.5 110.3,322 111.2,320.7 112.3,319.6 113.2,318.3 113.7,316.9 114.1,315.4 114.8,314 115.7,312.8 116.5,311.6 117.1,310.2 117.6,308.8 118.2,307.4 119,306.2 119.8,305.1 120.7,304.1 121.7,303.1 122.6,302.1 123.6,301.1 124.4,300.1 125.2,298.9 126,297.8 127.1,296.8 128.3,296.1 129.7,295.6 131.1,295.3 132.4,294.7 133.5,293.9 134.7,293.2 136,293 137.3,293.1 138.1,293.5 137.7,294.4 136.7,295.2 135.7,295.8 134.5,296.2 133.3,296.7 132.1,297.2 130.9,297.8 129.8,298.6 129,299.7 128.3,301 127.5,302 126.4,302.6 125.2,303.1 124.3,303.9 123.6,305.1 123,306.3 122.2,307.2 121.1,308.1 120.1,309 119.4,310.2 118.9,311.5 118.4,313 118,314.4 117.4,315.7 116.7,316.9 115.8,318.1 115.3,319.5 115,321 114.5,322.4 113.7,323.7 113.1,325.1 112.9,326.7 112.8,328.4 112.6,330 112,331.6 111.4,333.2 111,335 110.4,336.8 109.6,338.4 108.6,339.8 107.9,341.3 107.6,342.7 107.7,344 107.9,345 108,345.9 107.8,346.6 107.5,347.3 107.2,348.1 107.3,349.2 107.4,350.5 107,352.1 106,353.6 104.9,355.1 104,356.9 103.5,359 103,361.2 102.2,363.2 101.3,365.1 100.2,367.1 99,369.1 97.6,370.9 95.9,372.4 94.1,373.7 92.5,375.1 90.9,376.6 89.5,378.1 88.2,379.6 86.8,380.9 85.4,381.9 83.9,382.5 82.4,383.2 81,384.1 79.6,384.8 78,385.1 76.6,385.5 75.2,386 73.9,387 72.6,387.9 71.2,388.2 69.8,388.4 68.4,388.8 67.1,389.6"/>
<polygon fill="#00f0e6" points="140.2,292.4 140.7,292.1 141.7,291 142.8,290.6 144,291 144.6,291.1 144,291.4 143,291.9 141.9,292.2 140.8,292.3"/>
<polygon fill="#00f0e6" points="155.3,292.3 155.9,292.1 157.1,291.9 158.4,292.2 159.7,292.3 160.9,292.6 162.1,293.2 163.3,293.8 164.4,293.9 165.5,293.8 166.7,293.7 167.7,294 168.8,294.3 169.9,294.6 171,294.6 172.2,294.7 173.3,294.8 174.5,295.1 175.7,295.6 176.9,296.1 178.2,296.3 179.4,296 180.6,295.6 181.8,295.4 182.9,295.5 183.9,295.7 184.9,295.6 185.9,295.5 186.9,295.4 187.9,295.5 189,295.4 190.2,295 191.1,295.6 190.7,296.7 189.5,297.2 188.3,297.3 187.2,297.4 186.1,297.5 185.1,297.7 184,297.9 182.9,298.1 181.8,298.1 180.6,298 179.3,298 178,298.2 176.7,298.3 175.5,298.2 174.2,297.9 173,297.6 171.8,297.5 170.7,297.3 169.6,297 168.5,296.6 167.5,296.5 166.4,296.7 165.2,296.9 164.2,296.9 163.1,296.5 161.9,295.7 160.7,295.1 159.5,294.7 158.3,294.3 157.1,293.7 155.9,292.6"/>
<polygon fill="#00f07d" points="66.3,387 67.6,386.4 69,385.9 70.3,385.3 71.6,384.4 73,384.1 74,384.7 73.6,385.9 72.4,387 71,387.5 69.5,387.7 68.1,388 66.7,388.5"/>
<polygon fill="#00f07d" points="79.8,382.9 80.4,382 81.6,380.8 82.9,379.6 84.3,378.6 85.7,377.7 87.1,376.5 88.3,375 89.6,373.4 91,372.3 92.7,371.3 94.3,370.1 95.7,368.4 97,366.7 98.2,365.1 99.7,363.7 100.6,363.2 100.3,364.3 99.3,366.2 98.2,368.2 96.9,370.1 95.4,371.7 93.7,373 92.1,374.4 90.6,375.8 89.2,377.3 87.9,378.7 86.5,379.9 85,380.8 83.5,381.5 82.1,382.3 80.7,383.1"/>
</g>
<path d="M45.2 236.0 V419.3 H252.4" fill="none" stroke="#8a8a8a" stroke-width="0.9"/>
<path d="M45.2 236.0h2.2M45.2 266.6h2.2M45.2 297.1h2.2M45.2 327.6h2.2M45.2 358.2h2.2M45.2 388.8h2.2M45.2 419.3h2.2M45.2 419.3v-2.2M74.8 419.3v-2.2M104.4 419.3v-2.2M134.0 419.3v-2.2M163.6 419.3v-2.2M193.2 419.3v-2.2M222.8 419.3v-2.2M252.4 419.3v-2.2" fill="none" stroke="#8a8a8a" stroke-width="0.9"/>
<text x="41.4" y="240.0" font-size="10.7" text-anchor="end">3317</text>
<text x="41.4" y="301.5" font-size="10.7" text-anchor="end">3315</text>
<text x="40.0" y="361.3" font-size="10.7" text-anchor="end">3313</text>
<text x="40.0" y="417.8" font-size="10.7" text-anchor="end">3311</text>
<text x="50.2" y="434.1" font-size="10.7" text-anchor="middle">371</text>
<text x="105.4" y="432.3" font-size="10.7" text-anchor="middle">373</text>
<text x="163.1" y="432.3" font-size="10.7" text-anchor="middle">375</text>
<text x="222.0" y="431.1" font-size="10.7" text-anchor="middle">377</text>
<text x="57.7" y="244.6" font-size="11.0">(c)</text>
<text transform="translate(13.2 324.5) rotate(-90)" font-size="10.5" text-anchor="middle" stroke-width="0.08">Y (km)</text>
<text x="157.8" y="447.0" font-size="10.5" text-anchor="middle" stroke-width="0.08">X (km)</text>
<rect x="246.4" y="384.20" width="6.5" height="13.95" fill="#1c0088"/>
<rect x="246.4" y="370.40" width="6.5" height="13.95" fill="#2d00d4"/>
<rect x="246.4" y="356.60" width="6.5" height="13.95" fill="#1036f2"/>
<rect x="246.4" y="342.80" width="6.5" height="13.95" fill="#00a0f0"/>
<rect x="246.4" y="329.00" width="6.5" height="13.95" fill="#00f0e6"/>
<rect x="246.4" y="315.20" width="6.5" height="13.95" fill="#00f07d"/>
<rect x="246.4" y="301.40" width="6.5" height="13.95" fill="#c8fa28"/>
<rect x="246.4" y="287.60" width="6.5" height="13.95" fill="#fab41e"/>
<rect x="246.4" y="273.80" width="6.5" height="13.95" fill="#fa501e"/>
<rect x="246.4" y="260.00" width="6.5" height="13.95" fill="#fa141e"/>
<rect x="246.4" y="251.80" width="6.5" height="8.35" fill="#8c0f14"/>
<text x="246.4" y="247.3" font-size="7.6">N/m<tspan font-size="5.0" dy="-3.0">2</tspan></text>
<text x="256.7" y="261.6" font-size="7.6">7.5</text>
<text x="256.7" y="290.0" font-size="7.6">6.0</text>
<text x="256.7" y="318.1" font-size="7.6">4.5</text>
<text x="256.7" y="345.3" font-size="7.6">3.0</text>
<text x="256.7" y="373.4" font-size="7.6">1.5</text>
<text x="257.2" y="400.5" font-size="7.6">0</text>
</g>
<g id="panel-d">
<g class="river" filter="url(#soft)">
<polygon fill="#1c0088" points="344.1,377.1 345.5,376.6 346.9,376.2 348.3,375.7 349.7,375.3 351.2,374.8 352.6,374.3 353.9,373.7 355.3,373 356.6,372.3 358,371.5 359.3,370.6 360.6,369.7 361.9,368.7 363.2,367.7 364.4,366.7 365.5,365.7 366.6,364.7 367.7,363.6 368.7,362.5 369.7,361.4 370.6,360.2 371.5,359.1 372.3,357.9 373.2,356.7 373.9,355.5 374.7,354.2 375.4,352.9 376.1,351.5 376.7,350.2 377.3,348.9 377.8,347.7 378.3,346.6 378.7,345.7 379,344.9 379.2,344.2 379.5,343.6 379.7,343 379.9,342.2 380.2,341.3 380.6,340.2 381.1,338.9 381.6,337.4 382.2,335.8 382.8,334.1 383.5,332.3 384.1,330.5 384.8,328.8 385.4,327.2 386,325.7 386.6,324.2 387.2,322.8 387.9,321.3 388.5,319.9 389.1,318.5 389.8,317.1 390.5,315.7 391.2,314.4 392,313.1 392.7,311.8 393.5,310.5 394.3,309.2 395.1,308 396,306.8 396.8,305.7 397.7,304.5 398.6,303.4 399.5,302.3 400.5,301.2 401.4,300.2 402.4,299.2 403.5,298.3 404.6,297.4 405.7,296.5 407,295.7 408.2,295 409.6,294.2 410.9,293.6 412.2,292.9 413.5,292.3 414.8,291.8 416,291.3 417.3,290.8 418.5,290.4 419.7,290 420.9,289.6 422.1,289.3 423.3,289 424.4,288.8 425.6,288.5 426.7,288.4 427.7,288.2 428.8,288.1 429.9,288 431,288 432.1,288 433.3,288 434.5,288 435.8,288.1 437.1,288.2 438.4,288.3 439.7,288.5 441,288.6 442.3,288.8 443.5,289 444.7,289.2 445.8,289.4 447,289.6 448.1,289.8 449.2,290.1 450.3,290.3 451.4,290.5 452.5,290.8 453.7,291 454.8,291.3 455.9,291.5 457.1,291.8 458.2,292 459.3,292.2 460.4,292.4 461.4,292.5 462.3,292.5 463.2,292.5 464,292.5 464.8,292.4 465.6,292.3 466.4,292.1 467.2,291.9 468.1,291.6 469,291.2 470.1,290.7 471.1,290.2 472.2,289.6 473.2,289 474.3,288.3 475.2,287.6 476.1,286.9 476.9,286.1 477.7,285.2 478.3,284.3 479,283.4 479.6,282.4 480.2,281.5 480.8,280.5 481.3,279.6 481.9,278.6 482.4,277.7 482.8,276.7 483.3,275.8 483.7,274.8 484.1,273.9 484.5,272.9 484.9,272 485.3,271 485.7,270.1 486,269.2 486.3,268.3 486.6,267.4 486.9,266.5 487.3,265.5 487.7,264.5 488.1,263.4 488.6,262.3 489.1,261.2 489.6,260 490.1,258.8 490.7,257.6 491.2,256.5 491.7,255.3 492.1,254.1 492.6,253 493,251.8 493.5,250.7 493.9,249.5 494.3,248.4 494.7,247.2 495.2,246.1 506.7,253.3 506.4,254.1 506.1,254.9 505.8,255.7 505.5,256.5 505.2,257.3 504.9,258.1 504.5,259 504.1,260 503.6,261.1 503.1,262.2 502.5,263.5 501.9,264.7 501.3,266 500.8,267.3 500.2,268.5 499.7,269.6 499.2,270.6 498.8,271.6 498.4,272.5 498.1,273.3 497.7,274.2 497.3,275.1 496.9,276 496.5,276.9 496,277.8 495.6,278.8 495.1,279.7 494.6,280.7 494.1,281.6 493.5,282.6 492.9,283.7 492.2,284.8 491.4,285.9 490.5,287.2 489.6,288.5 488.6,289.8 487.5,291.1 486.4,292.4 485.2,293.6 483.9,294.7 482.5,295.7 481,296.6 479.3,297.5 477.6,298.4 475.9,299.2 474.2,299.9 472.6,300.5 471.1,301.1 469.7,301.5 468.5,301.8 467.2,301.9 466.1,302.1 464.9,302.1 463.8,302.2 462.6,302.2 461.4,302.3 460.1,302.3 458.8,302.4 457.5,302.4 456.1,302.4 454.8,302.4 453.5,302.4 452.2,302.3 451,302.3 449.9,302.2 448.8,302.1 447.7,302 446.7,301.8 445.7,301.7 444.6,301.5 443.6,301.4 442.5,301.3 441.4,301.1 440.2,301 439,300.8 437.8,300.6 436.6,300.5 435.5,300.3 434.3,300.2 433.3,300.1 432.2,299.9 431.3,299.8 430.3,299.7 429.4,299.6 428.5,299.5 427.6,299.5 426.7,299.5 425.7,299.7 424.8,299.9 423.9,300.1 423,300.4 422.1,300.8 421.2,301.2 420.4,301.6 419.5,302.1 418.6,302.6 417.7,303.1 416.9,303.6 416,304.2 415.1,304.8 414.3,305.4 413.5,306.1 412.7,306.8 411.9,307.5 411.1,308.1 410.4,308.9 409.7,309.6 409,310.3 408.4,311.1 407.7,311.9 407.1,312.7 406.5,313.6 405.9,314.6 405.3,315.6 404.7,316.7 404.2,317.8 403.7,318.9 403.2,320.1 402.7,321.3 402.2,322.4 401.7,323.6 401.2,324.8 400.8,326.1 400.4,327.3 400,328.6 399.5,329.9 399,331.2 398.5,332.5 398,333.9 397.4,335.4 396.8,336.9 396.1,338.5 395.5,340 394.9,341.4 394.3,342.8 393.8,344 393.4,345.1 393.1,345.9 392.9,346.7 392.6,347.4 392.4,348.1 392,348.9 391.6,349.8 391,351 390.3,352.5 389.5,354.1 388.6,355.9 387.7,357.7 386.6,359.7 385.5,361.6 384.3,363.4 383.1,365.2 381.7,367 380.3,368.7 378.7,370.5 377.1,372.3 375.5,374 373.8,375.6 372.2,377.1 370.7,378.4 369.2,379.6 367.7,380.7 366.2,381.6 364.8,382.5 363.3,383.3 361.9,384 360.5,384.7 359.1,385.4 357.7,386.1 356.4,386.6 355,387.2 353.7,387.7 352.3,388.1 351,388.6 349.6,389.1 348.3,389.6"/>
<polygon fill="#2d00d4" points="345.7,382 347,381.3 348.2,380.3 349.6,379.7 351.2,379.9 352.9,380.3 354.3,380 355.6,379.1 356.9,378.1 358.2,377.4 359.6,376.5 360.9,375.5 362.2,374.6 363.7,373.9 365.1,373.2 366.4,372.1 367.6,371 369,370 370.4,368.9 371.6,367.4 372.7,365.8 374,364.5 375.6,363.6 376.9,362.2 377.5,360.4 377.5,358.2 378,356.4 378.9,355 379.9,353.6 380.4,352 380.9,350.4 381.4,349.1 381.6,347.8 381.4,346.6 381.1,345.6 381,344.8 381.2,344.1 381.2,343.4 381.3,342.6 381.9,341.8 382.7,340.8 382.9,339.5 382.8,337.8 383.1,336.1 383.9,334.4 384.8,332.8 385.4,331 385.7,329.2 386.2,327.5 386.8,326.1 387.5,324.6 388,323.1 388.6,321.7 389.3,320.3 390.1,319 390.8,317.6 391.4,316.3 392.1,314.9 392.7,313.5 393.2,312.1 393.9,310.7 394.7,309.5 395.7,308.5 396.8,307.5 397.6,306.2 398.3,305 399.1,303.9 400.1,302.8 401,301.8 401.8,300.6 402.7,299.6 403.8,298.7 405,297.9 406.1,297.1 407.3,296.2 408.5,295.4 409.8,294.7 411.1,294.1 412.5,293.5 413.8,293 415.1,292.6 416.3,292 417.4,291.2 418.6,290.7 419.8,290.4 421,290.2 422.2,289.9 423.4,289.6 424.5,289.4 425.7,289.6 426.8,289.7 427.8,289.3 428.9,289 429.9,288.9 431,289.2 432.1,289.6 433.3,290 434.5,290.5 435.7,290.9 437,291 438.3,291 439.5,291.4 440.8,292.3 442,292.9 443.2,293 444.4,292.7 445.5,293 446.6,293.4 447.7,293.5 448.8,293.2 449.9,293.3 450.9,294.1 452,295.1 453.1,295.4 454.3,295.2 455.6,295 456.8,295 458,294.9 459.2,294.9 460.3,295.2 461.4,295.7 462.4,295.8 463.4,295.6 464.3,295.4 465.2,295.5 466.1,295.5 467,294.9 467.8,294.2 468.8,293.9 470,293.7 471.2,293.1 472.1,292 472.9,290.7 473.8,289.8 474.9,289.1 475.9,288.4 476.8,287.5 477.6,286.7 478.4,285.9 479.1,284.9 479.7,283.9 480.2,282.8 480.9,281.9 481.5,280.9 482,279.9 482.5,279 483.1,278 483.6,277.1 484.1,276.1 484.5,275.2 484.8,274.2 485.3,273.2 485.7,272.3 486.1,271.4 486.4,270.4 486.7,269.5 487,268.6 487.3,267.7 487.6,266.8 487.9,265.8 488.4,264.8 488.8,263.7 489.3,262.6 489.8,261.4 490.3,260.3 490.8,259.1 491.1,257.8 491.5,256.6 492.1,255.4 492.9,254.4 493.4,253.3 493.8,252.2 494.1,251 494.4,249.8 494.9,248.7 495.2,247.5 495.5,246.3 505.6,252.6 505.3,253.5 505,254.3 504.7,255.1 504.4,255.9 504.2,256.8 503.8,257.7 503.5,258.6 503,259.6 502.5,260.6 502,261.8 501.5,263.1 500.9,264.3 500.3,265.6 499.7,266.9 499.2,268.1 498.8,269.2 498.4,270.2 497.9,271.2 497.5,272.1 497.1,272.9 496.8,273.8 496.5,274.7 496.1,275.6 495.7,276.5 495.2,277.5 494.8,278.4 494.3,279.4 493.9,280.3 493.4,281.3 492.8,282.3 492.1,283.3 491.4,284.4 490.6,285.5 489.7,286.8 488.8,288 487.8,289.3 486.7,290.5 485.6,291.8 484.6,293 483.5,294.2 482,295.1 480.4,296 478.8,296.8 477.1,297.7 475.4,298.3 473.6,298.7 472.1,299.3 470.8,300.2 469.6,300.8 468.3,301.2 467.2,301.5 466,301.6 464.9,301.6 463.7,301.2 462.6,301.1 461.4,301.4 460.1,301.8 458.8,301.9 457.5,301.7 456.2,301.5 454.9,301.7 453.6,301.8 452.3,301.6 451.1,301.3 450,301.3 448.9,301.5 447.8,301.3 446.8,300.9 445.8,300.5 444.8,300.2 443.7,300.1 442.6,300 441.4,300 440.2,300.2 439.1,300 437.9,299.3 436.7,298.2 435.5,297.6 434.4,297.6 433.3,297.3 432.2,296.8 431.2,296.5 430.2,296.8 429.3,297.2 428.3,296.9 427.3,296.2 426.3,295.9 425.3,296 424.3,296.3 423.3,296.5 422.3,296.8 421.3,297.2 420.3,297.4 419.2,297.4 418.1,297.7 417.2,298.5 416.4,299.5 415.4,300.1 414.2,300.4 413.1,300.9 412.2,301.8 411.1,302.3 409.7,302.4 408.4,302.6 407.6,303.6 407.3,305.1 406.8,306.3 406.1,307.2 405.2,307.9 404.4,308.8 403.5,309.6 402.5,310.4 401.8,311.4 401.3,312.7 400.9,313.9 400.1,315 399.3,316.1 398.8,317.4 398.6,318.8 398,320.1 397.1,321.1 396.6,322.4 396.7,324 396.8,325.6 396.1,326.8 394.9,327.8 394,329.1 393.6,330.6 393.5,332.2 393.2,333.9 393,335.6 392.9,337.4 392.5,339 391.7,340.5 390.8,341.7 390.2,343 390,344.1 389.7,345 389.4,345.7 389.8,346.6 390.6,347.6 390.8,348.5 390.1,349.4 389.1,350.4 388.6,351.8 388.4,353.6 387.7,355.4 386.8,357.2 385.7,359.1 384.7,361 383.6,362.8 382.3,364.6 381,366.2 379.7,368.1 378.3,370 376.8,371.8 375.2,373.5 373.6,375.1 372,376.6 370.3,377.7 368.7,378.4 367.2,379.2 365.9,380.6 364.6,381.8 363.2,382.6 361.7,383.2 360.3,383.9 358.9,384.7 357.5,385.4 356.1,385.8 354.7,386.1 353.3,386.6 352,387.2 350.7,387.6 349.3,388.1 347.9,388.6"/>
<polygon fill="#1036f2" points="345.9,382.7 347.3,382 348.5,381.1 349.9,380.5 351.4,380.6 353.1,380.9 354.5,380.7 355.8,379.8 357.1,378.9 358.5,378.1 359.8,377.3 361.2,376.3 362.5,375.4 363.9,374.6 365.3,373.8 366.6,372.8 368,371.7 369.4,370.7 370.8,369.6 372,368.1 373.1,366.5 374.5,365.1 376,364.1 377.3,362.7 378,360.9 378.2,358.7 378.7,356.9 379.7,355.5 380.7,354 381.3,352.4 381.8,350.8 382.3,349.4 382.5,348.1 382.4,346.9 382.2,345.9 382.1,345.1 382.2,344.4 382.2,343.7 382.3,342.9 382.8,342.1 383.5,341.1 383.8,339.7 383.6,338 383.8,336.3 384.7,334.7 385.7,333.1 386.3,331.3 386.3,329.4 386.6,327.7 387.3,326.3 388,324.8 388.5,323.3 389.1,321.9 389.8,320.5 390.7,319.3 391.4,318 392,316.6 392.6,315.2 393.1,313.8 393.6,312.3 394.2,311 395,309.8 396.1,308.7 397.3,307.8 398,306.6 398.6,305.3 399.4,304.2 400.4,303.2 401.3,302.1 402.1,300.9 403,299.9 404,299 405.2,298.2 406.3,297.4 407.5,296.5 408.7,295.7 410,295.1 411.3,294.4 412.6,293.9 414,293.5 415.3,293.2 416.4,292.4 417.5,291.6 418.7,291 419.9,290.7 421.1,290.5 422.3,290.3 423.4,289.9 424.6,289.8 425.7,290.2 426.8,290.3 427.9,289.9 428.9,289.5 429.9,289.4 431,289.8 432.1,290.2 433.3,290.5 434.5,291 435.7,291.4 436.9,291.5 438.2,291.5 439.5,291.9 440.7,292.7 441.9,293.3 443.1,293.4 444.3,293.1 445.4,293.4 446.5,293.8 447.6,293.9 448.8,293.6 449.9,293.7 450.9,294.5 451.9,295.4 453.1,295.7 454.3,295.6 455.5,295.4 456.8,295.3 458,295.3 459.1,295.3 460.3,295.6 461.4,296 462.4,296.1 463.4,295.9 464.3,295.8 465.2,295.9 466.2,295.8 467,295.3 467.9,294.6 468.9,294.2 470.1,294.1 471.4,293.6 472.4,292.6 473.3,291.4 474.5,290.7 475.7,290.1 476.8,289.4 477.7,288.5 478.7,287.7 479.5,286.8 480.1,285.6 480.4,284.3 480.8,283.2 481.5,282.2 482.2,281.3 482.8,280.3 483.4,279.4 484.5,278.6 485.4,277.9 485.7,276.8 485.4,275.5 485.3,274.4 485.9,273.5 486.8,272.8 487.1,271.8 487.1,270.8 487.3,269.8 487.7,269 488,268 488.1,267 488.4,266 488.9,265 489.5,264 489.8,262.8 490.2,261.6 490.8,260.4 491.2,259.2 491.4,257.9 491.7,256.6 492.3,255.5 493.4,254.6 494.3,253.7 494.5,252.5 494.5,251.2 494.8,250 495.2,248.9 495.5,247.7 495.8,246.5 503.3,251.2 502.9,252.1 502.4,252.9 502.1,253.8 502,254.8 501.6,255.7 501.2,256.6 501,257.6 500.8,258.8 500.3,259.8 499.5,260.9 498.9,262.1 498.6,263.5 498.1,264.7 497.3,265.9 496.9,267.1 497.1,268.5 497.4,269.8 496.9,270.7 495.8,271.3 494.9,272 494.7,272.9 494.7,273.9 494.4,274.9 494.1,275.9 494,276.9 493.8,278 493.4,279 492.6,279.8 491.9,280.7 491.3,281.7 490.6,282.6 489.7,283.6 489.1,284.8 488.8,286.2 488.1,287.6 486.8,288.6 485.4,289.6 484.5,290.8 483.9,292.4 483,293.7 481.5,294.5 479.8,295.2 478.3,296.1 476.8,297.1 475.1,297.7 473.4,298.2 472,298.9 470.7,299.9 469.5,300.6 468.3,301 467.1,301.3 466,301.4 464.8,301.3 463.7,301 462.5,300.8 461.4,301.2 460.1,301.6 458.8,301.6 457.5,301.4 456.2,301.3 454.9,301.5 453.6,301.6 452.4,301.4 451.2,301.1 450,301.1 448.9,301.2 447.8,301 446.8,300.6 445.8,300.1 444.8,299.8 443.7,299.7 442.6,299.6 441.5,299.7 440.3,299.9 439.1,299.7 437.9,298.8 436.7,297.7 435.5,297.2 434.4,297.1 433.3,296.8 432.2,296.3 431.2,296 430.2,296.2 429.2,296.4 428.2,296.2 427.2,295.6 426.2,295.2 425.2,295.2 424.2,295.5 423.2,295.7 422.2,296 421.1,296.4 420.1,296.6 419,296.7 417.9,297 417,297.9 416.1,298.8 415,299.3 413.8,299.7 412.7,300.2 411.7,301 410.6,301.6 409.3,301.8 408,302 407.1,303 406.7,304.4 406.2,305.6 405.5,306.5 404.6,307.3 403.7,308.1 402.8,309 401.9,309.8 401.1,310.9 400.6,312.1 400,313.3 399.2,314.4 398.4,315.5 398,316.9 397.7,318.3 397.2,319.6 396.3,320.7 395.8,322 395.7,323.5 395.7,325.1 395,326.3 393.9,327.4 393.1,328.7 392.7,330.2 392.6,331.8 392.3,333.5 392,335.3 391.8,337 391.4,338.7 390.7,340.2 389.9,341.5 389.3,342.7 389.1,343.8 388.7,344.7 388.4,345.4 388.8,346.3 389.5,347.2 389.7,348.2 389.1,349 388.2,350.1 387.7,351.5 387.6,353.3 387.1,355.1 386.1,356.9 385,358.7 384.1,360.6 383.1,362.5 381.9,364.2 380.7,365.9 379.4,367.8 378.1,369.7 376.5,371.4 375,373.1 373.4,374.7 371.8,376.2 370.2,377.2 368.5,377.7 367,378.6 365.7,380.1 364.4,381.4 363,382.2 361.5,382.8 360.1,383.4 358.8,384.2 357.4,385 356,385.3 354.5,385.5 353.1,386 351.8,386.5 350.5,387.1 349.1,387.5 347.8,388"/>
<polygon fill="#00a0f0" points="346.1,383.2 347.4,382.5 348.7,381.6 350,381.1 351.6,381.1 353.2,381.4 354.7,381.1 356,380.3 357.3,379.4 358.6,378.6 360,377.9 361.3,376.9 362.7,376 364.1,375.1 365.5,374.2 366.8,373.2 368.2,372.3 369.6,371.3 371,370.1 372.3,368.6 373.4,366.9 374.8,365.6 376.4,364.4 377.7,363 378.4,361.2 378.7,359.1 379.3,357.3 380.3,355.8 381.3,354.3 382,352.7 382.5,351.1 383,349.7 383.2,348.3 383.2,347.2 383.1,346.2 383,345.3 383,344.6 382.9,343.9 383,343.1 383.5,342.3 384.1,341.2 384.4,339.9 384.4,338.2 384.6,336.5 385.4,334.9 386.4,333.3 386.9,331.5 386.9,329.7 387.2,328 387.9,326.5 388.7,325.1 389.3,323.7 389.8,322.3 390.5,320.9 391.3,319.6 392,318.3 392.6,316.9 393.2,315.6 393.7,314.1 393.9,312.6 394.5,311.2 395.3,310 396.6,309.1 397.7,308.2 398.4,307 399,305.7 399.8,304.5 400.8,303.6 401.7,302.5 402.3,301.2 403.2,300.1 404.2,299.2 405.4,298.5 406.6,297.7 407.7,296.8 408.9,296 410.2,295.4 411.5,294.8 412.8,294.3 414.2,294 415.5,293.6 416.5,292.8 417.6,291.8 418.7,291.3 419.9,291 421.2,290.9 422.3,290.7 423.5,290.3 424.6,290.2 425.8,290.6 426.9,290.7 427.9,290.4 428.9,290 430,289.9 431,290.2 432.1,290.5 433.3,290.9 434.4,291.3 435.7,291.7 436.9,291.8 438.2,291.9 439.5,292.3 440.7,293.1 441.9,293.6 443.1,293.6 444.3,293.4 445.4,293.7 446.5,294.1 447.6,294.2 448.7,293.9 449.8,294 450.9,294.8 451.9,295.6 453,296 454.3,295.8 455.5,295.6 456.7,295.6 458,295.5 459.1,295.5 460.3,295.8 461.4,296.2 462.4,296.3 463.4,296.1 464.3,296 465.3,296.1 466.2,296 467.1,295.5 468,294.8 469,294.5 470.2,294.3 471.5,293.9 472.6,292.9 473.6,291.9 474.9,291.3 476.2,290.8 477.5,290.1 478.5,289.2 479.4,288.3 480.2,287.3 480.6,286 480.9,284.7 481.3,283.5 482,282.4 482.6,281.5 483.2,280.5 483.8,279.5 484.9,278.8 485.8,278 486.1,277 485.8,275.7 485.7,274.5 486.3,273.7 487.1,272.9 487.5,272 487.5,270.9 487.7,270 488.1,269.1 488.3,268.2 488.4,267.1 488.7,266.1 489.3,265.2 489.9,264.1 490.2,263 490.5,261.7 491.1,260.6 491.5,259.3 491.6,258 491.9,256.7 492.5,255.6 493.7,254.8 494.7,253.9 494.8,252.6 494.7,251.3 495,250.1 495.4,249 495.7,247.8 496,246.6 502.9,250.9 502.5,251.8 502,252.6 501.7,253.6 501.6,254.6 501.3,255.5 500.8,256.4 500.6,257.5 500.4,258.6 499.9,259.7 499.1,260.7 498.5,262 498.2,263.3 497.7,264.6 496.9,265.7 496.5,266.9 496.7,268.3 497,269.6 496.5,270.6 495.4,271.2 494.5,271.8 494.3,272.7 494.3,273.8 494,274.7 493.7,275.7 493.6,276.8 493.4,277.8 493,278.8 492.2,279.6 491.5,280.5 490.9,281.5 490.2,282.4 489.3,283.4 488.7,284.6 488.3,286 487.5,287.3 486.2,288.2 484.9,289.1 483.9,290.3 483.2,291.7 482.2,292.9 480.8,293.8 479.3,294.5 477.8,295.4 476.5,296.6 474.9,297.4 473.3,298 471.9,298.7 470.6,299.6 469.4,300.4 468.3,300.8 467.1,301.1 466,301.3 464.8,301.2 463.7,300.8 462.5,300.6 461.4,301 460.1,301.4 458.8,301.5 457.5,301.2 456.2,301 454.9,301.3 453.6,301.4 452.4,301.2 451.2,300.9 450.1,300.8 448.9,301 447.9,300.8 446.9,300.4 445.9,299.9 444.8,299.6 443.8,299.4 442.7,299.3 441.5,299.4 440.3,299.6 439.1,299.4 437.9,298.5 436.7,297.4 435.6,296.8 434.4,296.7 433.3,296.5 432.2,295.9 431.2,295.6 430.2,295.7 429.2,295.9 428.2,295.7 427.2,295.2 426.2,294.8 425.1,294.7 424.1,295 423.1,295.2 422.1,295.5 421,295.8 419.9,296 418.8,296.2 417.7,296.6 416.8,297.4 415.9,298.3 414.8,298.8 413.6,299.1 412.4,299.7 411.4,300.5 410.3,301.1 409,301.3 407.7,301.6 406.8,302.5 406.3,303.9 405.8,305.1 405,306.1 404.1,306.9 403.2,307.7 402.3,308.5 401.4,309.4 400.7,310.5 400.1,311.7 399.4,312.9 398.6,314 397.8,315.1 397.4,316.5 397.1,317.9 396.6,319.2 395.8,320.4 395.2,321.7 395,323.2 394.9,324.7 394.2,326 393.2,327.1 392.4,328.4 392.1,329.9 391.9,331.6 391.7,333.3 391.4,335.1 391.1,336.8 390.6,338.4 389.9,339.9 389.2,341.3 388.7,342.6 388.4,343.6 387.9,344.5 387.7,345.2 388,346 388.6,347 388.8,347.9 388.3,348.8 387.5,349.8 387.1,351.2 386.9,353 386.4,354.8 385.5,356.6 384.5,358.3 383.5,360.2 382.6,362.1 381.5,363.9 380.3,365.6 379.1,367.5 377.8,369.4 376.4,371.2 374.8,372.9 373.2,374.5 371.7,375.9 370,376.7 368.3,377.3 366.8,378.2 365.6,379.6 364.3,381 362.9,381.8 361.4,382.3 359.9,382.9 358.6,383.8 357.3,384.6 355.8,384.9 354.4,385.1 353,385.5 351.6,386 350.3,386.5 348.9,387 347.6,387.6"/>
<polygon fill="#00f0e6" points="346.2,383.6 347.6,383 348.9,382.2 350.2,381.7 351.7,381.6 353.3,381.8 354.8,381.5 356.1,380.8 357.4,379.9 358.8,379.2 360.2,378.4 361.5,377.4 362.8,376.5 364.2,375.5 365.6,374.6 367,373.7 368.4,372.8 369.8,371.8 371.2,370.6 372.5,369 373.7,367.3 375.1,366 376.7,364.8 378,363.3 378.8,361.6 379.2,359.5 379.9,357.7 380.9,356.2 382,354.7 382.8,353.1 383.3,351.5 383.7,350 384,348.6 384.1,347.4 384,346.4 383.9,345.6 383.8,344.9 383.7,344.1 383.8,343.3 384.2,342.5 384.8,341.4 385.1,340.1 385.1,338.5 385.4,336.8 386.2,335.2 387,333.5 387.5,331.8 387.6,329.9 387.8,328.2 388.6,326.8 389.4,325.5 390.2,324.1 390.7,322.7 391.2,321.3 391.9,319.9 392.6,318.6 393.2,317.3 393.9,316 394.3,314.6 394.6,313 395,311.5 395.9,310.4 397.1,309.5 398.2,308.5 398.9,307.4 399.5,306.1 400.3,305 401.3,304 402.1,303 402.8,301.7 403.5,300.5 404.5,299.6 405.7,298.9 406.8,298.1 408,297.3 409.2,296.5 410.4,295.8 411.7,295.3 413.1,294.8 414.4,294.5 415.6,294 416.7,293.2 417.7,292.2 418.8,291.6 420,291.4 421.3,291.5 422.4,291.2 423.5,290.8 424.7,290.7 425.8,291 426.9,291.1 427.9,290.9 428.9,290.4 430,290.3 431,290.5 432.1,290.9 433.3,291.2 434.4,291.7 435.7,292 436.9,292.1 438.2,292.2 439.5,292.6 440.7,293.3 441.9,293.9 443.1,293.9 444.3,293.7 445.4,293.9 446.5,294.3 447.6,294.4 448.7,294.1 449.8,294.3 450.8,295 451.9,295.8 453,296.2 454.2,296 455.5,295.8 456.7,295.8 457.9,295.7 459.1,295.7 460.3,296 461.4,296.4 462.4,296.5 463.4,296.3 464.3,296.2 465.3,296.3 466.2,296.2 467.1,295.7 468,295 469.1,294.7 470.3,294.6 471.6,294.1 472.7,293.3 474,292.5 475.6,292.2 477,291.7 478.3,291 479.4,290.2 480.3,289.1 480.9,287.9 481.2,286.4 481.4,285 481.7,283.7 482.3,282.7 482.9,281.6 483.4,280.6 484.1,279.7 485.1,278.9 486.1,278.2 486.3,277.1 486,275.8 486,274.7 486.6,273.8 487.4,273 487.7,272.1 487.7,271 487.9,270.1 488.3,269.2 488.6,268.3 488.7,267.2 489,266.2 489.5,265.3 490.1,264.2 490.4,263 490.8,261.8 491.3,260.7 491.7,259.4 491.8,258 492,256.8 492.7,255.7 493.9,254.8 494.9,253.9 495,252.7 494.9,251.4 495.2,250.2 495.6,249.1 495.9,247.9 496.2,246.7 502.6,250.7 502.3,251.7 501.8,252.5 501.5,253.5 501.3,254.5 501,255.4 500.6,256.3 500.4,257.4 500.1,258.5 499.6,259.6 498.8,260.6 498.3,261.9 497.9,263.2 497.4,264.5 496.7,265.6 496.3,266.8 496.5,268.2 496.7,269.5 496.2,270.4 495.1,271 494.2,271.7 494,272.6 494,273.7 493.8,274.6 493.5,275.6 493.3,276.7 493.1,277.7 492.7,278.7 492,279.5 491.3,280.4 490.7,281.4 489.9,282.3 489,283.3 488.4,284.4 487.9,285.7 487.1,287 485.8,287.9 484.3,288.8 483.2,289.8 482.3,290.9 481.3,292 480,292.9 478.5,293.6 477.2,294.5 476.1,296 474.7,297 473.2,297.7 471.8,298.5 470.6,299.4 469.4,300.1 468.2,300.6 467.1,301 466,301.2 464.8,301 463.7,300.6 462.5,300.4 461.4,300.8 460.1,301.3 458.8,301.3 457.6,301 456.3,300.8 454.9,301.1 453.6,301.3 452.4,301 451.2,300.7 450.1,300.6 449,300.8 447.9,300.6 446.9,300.1 445.9,299.6 444.9,299.3 443.8,299.1 442.7,299.1 441.5,299.1 440.3,299.3 439.1,299 437.9,298.1 436.7,297.1 435.6,296.5 434.4,296.4 433.3,296.1 432.2,295.6 431.1,295.2 430.1,295.3 429.2,295.5 428.2,295.3 427.2,294.8 426.1,294.4 425.1,294.2 424.1,294.5 423,294.7 422,295 420.9,295.3 419.8,295.5 418.7,295.7 417.6,296.2 416.6,297 415.7,297.8 414.6,298.3 413.3,298.6 412.2,299.2 411.2,300 410,300.6 408.7,300.9 407.4,301.3 406.5,302.1 405.9,303.4 405.4,304.6 404.6,305.6 403.7,306.4 402.7,307.2 401.8,308.1 400.9,309 400.2,310.2 399.6,311.3 398.8,312.5 397.9,313.5 397.2,314.7 396.7,316.1 396.4,317.5 395.9,318.8 395.2,320.1 394.6,321.3 394.3,322.8 394,324.3 393.4,325.6 392.5,326.8 391.8,328.1 391.4,329.7 391.3,331.4 391.1,333.1 390.8,334.8 390.3,336.5 389.8,338.2 389.2,339.7 388.6,341.1 388.1,342.4 387.7,343.4 387.1,344.2 386.9,345 387.1,345.8 387.7,346.7 387.9,347.6 387.5,348.5 386.8,349.6 386.3,350.9 386.1,352.6 385.7,354.5 384.8,356.2 383.9,358 383,359.8 382.1,361.7 381.2,363.6 380,365.3 378.8,367.1 377.5,369 376.1,370.8 374.6,372.5 373.1,374.1 371.5,375.4 369.8,376.2 368.1,376.9 366.7,377.8 365.4,379.2 364.2,380.5 362.7,381.3 361.2,381.8 359.8,382.4 358.5,383.3 357.1,384.1 355.7,384.5 354.2,384.7 352.8,385 351.4,385.4 350.1,386 348.8,386.6 347.5,387.2"/>
<polygon fill="#00f07d" points="346.4,384 347.8,383.5 349.1,382.8 350.4,382.3 351.9,382.2 353.5,382.2 354.9,382 356.3,381.4 357.6,380.5 359,379.8 360.4,379 361.7,378 363,377 364.3,376 365.7,375 367.1,374.2 368.6,373.4 370.1,372.4 371.5,371.1 372.8,369.4 374,367.8 375.5,366.4 377,365.2 378.4,363.7 379.4,362 379.9,360.1 380.7,358.3 381.9,356.8 382.8,356.2 382.9,357.4 382.1,359.3 381.4,361.2 380.6,363.1 379.6,364.9 378.5,366.7 377.2,368.6 375.8,370.4 374.3,372.1 372.8,373.6 371.2,374.8 369.5,375.6 368,376.4 366.5,377.4 365.3,378.7 364,380 362.5,380.7 361,381.1 359.6,381.7 358.3,382.7 357,383.5 355.6,384 354.1,384.2 352.6,384.4 351.2,384.7 349.9,385.4 348.6,386.1 347.3,386.7"/>
<polygon fill="#00f07d" points="385.8,343.4 385.6,342.9 385.7,341.7 385.9,340.3 386.1,338.8 386.5,337.2 387.2,335.5 387.9,333.8 388.3,332.1 388.4,330.2 388.8,328.6 389.7,327.3 390.4,326.7 390.6,327.6 390.5,329.3 390.4,331 390.3,332.8 389.9,334.5 389.3,336.2 388.7,337.8 388.2,339.4 387.7,340.9 387.1,342.1 386.2,343"/>
<polygon fill="#00f07d" points="397,312 397.3,311.4 397.7,310.8 397.4,311.5"/>
<polygon fill="#00f07d" points="401.1,306.6 401.2,305.8 401.9,304.7 402.6,303.5 403.3,302.3 404,301.1 404.9,300.2 406,299.4 407.2,298.7 408.3,297.9 409.5,297.1 410.7,296.4 412,295.9 413.3,295.5 414.6,295.1 415.8,294.5 416.8,293.7 417.8,292.8 419,292.2 420.2,292.1 421.4,292.1 422.5,291.8 423.6,291.4 424.7,291.2 425.8,291.4 426.9,291.6 427.9,291.3 429,290.9 430,290.7 431,290.9 432.1,291.2 433.3,291.6 434.4,292 435.7,292.3 436.9,292.5 438.2,292.6 439.4,293 440.7,293.6 441.9,294.1 443.1,294.1 444.3,293.9 445.4,294.2 446.4,294.6 447.5,294.6 448.7,294.4 449.8,294.5 450.8,295.2 451.8,296 453,296.3 454.2,296.2 455.5,296 456.7,296 457.9,295.9 459.1,296 460.3,296.2 461.4,296.6 462.4,296.6 463.4,296.5 464.4,296.4 465.3,296.5 466.3,296.4 467.2,295.9 468.1,295.2 469.1,294.9 470.4,294.8 471.7,294.4 473,293.7 474.5,294.8 474.5,296.6 473.1,297.5 471.7,298.3 470.5,299.2 469.3,299.9 468.2,300.5 467,300.8 465.9,301 464.8,300.8 463.7,300.4 462.5,300.3 461.4,300.6 460.1,301.1 458.8,301.1 457.6,300.8 456.3,300.7 455,300.9 453.6,301.1 452.4,300.9 451.3,300.5 450.1,300.4 449,300.5 447.9,300.4 446.9,299.9 445.9,299.4 444.9,299.1 443.8,298.9 442.7,298.9 441.5,298.9 440.3,299 439.1,298.7 437.9,297.8 436.8,296.7 435.6,296.2 434.4,296.1 433.3,295.8 432.2,295.2 431.1,294.8 430.1,294.8 429.1,295 428.2,294.8 427.1,294.4 426.1,293.9 425,293.7 424,293.9 422.9,294.1 421.8,294.4 420.8,294.6 419.6,294.9 418.5,295.2 417.5,295.7 416.5,296.5 415.4,297.2 414.3,297.6 413,298 411.9,298.6 410.8,299.4 409.7,300 408.3,300.4 407,300.8 406,301.6 405.4,302.8 404.8,304 404.1,305 403.1,305.8 401.9,306.4"/>
<polygon fill="#00f07d" points="483.2,287 482.1,285.5 482.3,284 482.7,282.9 483.2,281.8 483.7,280.7 484.4,279.8 485.4,279 486.3,278.2 486.6,277.2 486.3,275.9 486.3,274.8 486.8,273.9 487.6,273.1 487.9,272.2 488,271.1 488.1,270.2 488.5,269.3 488.8,268.4 488.9,267.3 489.2,266.3 489.8,265.4 490.3,264.3 490.6,263.1 491,261.9 491.5,260.7 491.9,259.5 491.9,258.1 492.2,256.8 492.9,255.7 494.1,254.9 495,254 495.2,252.8 495.1,251.5 495.4,250.3 495.8,249.2 496.1,248.1 496.3,246.8 502.3,250.6 502,251.5 501.6,252.4 501.3,253.3 501.1,254.4 500.8,255.3 500.4,256.3 500.2,257.3 499.9,258.4 499.3,259.5 498.6,260.6 498.1,261.8 497.7,263.1 497.2,264.4 496.5,265.5 496.1,266.8 496.3,268.1 496.5,269.4 496,270.3 494.9,270.9 494,271.6 493.8,272.5 493.8,273.6 493.6,274.5 493.3,275.5 493.1,276.6 492.9,277.6 492.4,278.6 491.7,279.4 491.1,280.3 490.4,281.3 489.6,282.2 488.7,283.1 488.1,284.3 487.5,285.5 486.6,286.7 485.1,287.5"/>
<polygon fill="#c8fa28" points="346.6,384.6 348,384.3 348.9,384.5 348.3,385.2 347.1,386.1"/>
<polygon fill="#c8fa28" points="362.8,378.9 363.3,377.8 364.6,376.6 366,375.7 366.8,375.7 366.3,376.7 365.1,378.1 363.7,379.1"/>
<polygon fill="#c8fa28" points="371.4,373 372,372 373.1,370 374.5,368.4 376.1,367.2 377,366.7 376.5,367.7 375.4,369.7 374,371.4 372.3,372.6"/>
<polygon fill="#c8fa28" points="425.4,292.8 425.9,292.1 427,292.2 428,292.1 429,291.7 430,291.4 431.1,291.4 432.1,291.7 433.3,292.1 434.4,292.5 435.6,292.8 436.9,292.9 438.2,293 439.4,293.4 440.6,294 441.9,294.4 443.1,294.4 444.2,294.2 445.3,294.4 446.4,294.9 447.5,294.9 448.6,294.7 449.7,294.8 450.8,295.5 451.8,296.2 453,296.6 454.2,296.4 455.4,296.3 456.7,296.2 457.9,296.1 459.1,296.2 460.2,296.4 461.4,296.8 462.4,296.8 463.4,296.6 464.4,296.6 465.3,296.7 466.3,296.6 467.2,296.1 468.1,295.5 469.2,295.2 470.5,295.1 471.9,294.8 473.1,295.6 472.9,297.1 471.6,298 470.4,298.9 469.3,299.7 468.1,300.3 467,300.6 465.9,300.8 464.8,300.7 463.6,300.3 462.5,300.1 461.4,300.5 460.1,300.9 458.9,300.9 457.6,300.6 456.3,300.5 455,300.7 453.7,300.9 452.4,300.7 451.3,300.3 450.1,300.2 449,300.3 448,300.1 447,299.6 445.9,299.1 444.9,298.8 443.8,298.6 442.7,298.6 441.5,298.6 440.3,298.7 439.1,298.3 438,297.3 436.8,296.3 435.6,295.8 434.4,295.6 433.3,295.3 432.2,294.7 431.1,294.3 430.1,294.2 429.1,294.2 428.1,294.1 427.1,293.7 426,293.2"/>
<polygon fill="#c8fa28" points="484,285.9 483.4,284.7 483.3,283.2 483.6,282 484,280.9 484.6,279.9 485.6,279.1 486.5,278.3 486.8,277.3 486.5,276 486.5,274.9 487.1,274 487.8,273.2 488.1,272.2 488.2,271.2 488.4,270.2 488.7,269.4 489,268.4 489.2,267.4 489.5,266.5 490,265.5 490.5,264.4 490.8,263.2 491.2,262 491.7,260.8 492.1,259.5 492.1,258.2 492.3,256.9 493,255.8 494.3,255 495.2,254.1 495.4,252.9 495.3,251.6 495.6,250.4 496.1,249.4 496.4,248.2 496.6,247 502.1,250.4 501.8,251.4 501.3,252.3 501.1,253.2 501,254.3 500.7,255.2 500.3,256.2 500,257.2 499.7,258.3 499.1,259.4 498.4,260.5 497.9,261.7 497.5,263.1 497,264.3 496.3,265.5 495.9,266.7 496,268 496.2,269.3 495.7,270.2 494.7,270.9 493.8,271.5 493.6,272.5 493.6,273.5 493.4,274.4 493.1,275.4 492.8,276.5 492.6,277.5 492.2,278.4 491.5,279.3 490.8,280.2 490.2,281.1 489.4,282.1 488.5,283 487.7,284.1 487,285.2 485.5,286"/>
<polygon fill="#fab41e" points="437.4,295.1 438.1,294 439.4,294 440.6,294.4 441.8,294.8 443,294.8 444.2,294.6 445.3,294.9 446.4,295.2 447.5,295.2 448.6,295 449.7,295.1 450.7,295.7 451.8,296.5 452.9,296.8 454.2,296.7 455.4,296.5 456.7,296.4 457.9,296.4 459.1,296.4 460.2,296.7 461.4,297 462.4,297 463.4,296.8 464.4,296.8 465.4,296.9 466.3,296.8 467.3,296.3 468.2,295.8 469.3,295.5 470.7,295.7 471.7,296.2 471.4,297.4 470.3,298.6 469.2,299.4 468.1,300 467,300.4 465.9,300.6 464.8,300.4 463.6,300.1 462.5,299.9 461.4,300.2 460.1,300.6 458.9,300.6 457.6,300.3 456.3,300.2 455,300.4 453.7,300.6 452.5,300.4 451.3,300 450.2,299.9 449.1,300 448,299.8 447,299.3 446,298.7 445,298.3 443.9,298.2 442.7,298.2 441.6,298.2 440.4,298.2 439.2,297.6 438,296.3"/>
<polygon fill="#fab41e" points="485.3,283.6 484.4,282.4 484.4,281.1 485,280.1 486,279.3 486.8,278.5 487.1,277.4 486.8,276.2 486.8,275 487.3,274.1 488.1,273.3 488.4,272.3 488.4,271.3 488.6,270.3 488.9,269.5 489.2,268.5 489.5,267.6 489.8,266.6 490.2,265.6 490.7,264.5 491,263.3 491.4,262.1 491.9,260.9 492.3,259.6 492.3,258.2 492.5,256.9 493.3,255.9 494.5,255.1 495.4,254.2 495.5,253 495.5,251.7 495.8,250.5 496.3,249.5 496.7,248.4 496.9,247.2 501.8,250.2 501.5,251.2 501.1,252.1 500.9,253.1 500.7,254.2 500.5,255.2 500.1,256.1 499.8,257.2 499.4,258.2 498.9,259.3 498.2,260.4 497.7,261.6 497.3,263 496.8,264.2 496.1,265.4 495.7,266.6 495.8,267.9 496,269.2 495.5,270.1 494.5,270.8 493.6,271.4 493.4,272.4 493.3,273.4 493.1,274.3 492.8,275.3 492.6,276.3 492.3,277.4 491.9,278.3 491.3,279.2 490.6,280.1 489.8,281 489,281.9 488,282.8 487,283.7"/>
<polygon fill="#fa501e" points="446.7,297.1 447.4,296 448.5,295.5 449.6,295.5 450.7,296.1 451.7,296.8 452.9,297.2 454.1,297.1 455.4,296.9 456.6,296.7 457.9,296.7 459.1,296.8 460.2,297.1 461.4,297.3 462.4,297.3 463.4,297.1 464.4,297.1 465.4,297.2 466.4,297.1 467.4,296.7 468.4,296.3 469.3,297.4 469,298.8 468,299.6 466.9,300.1 465.8,300.3 464.7,300.1 463.6,299.8 462.5,299.6 461.4,299.9 460.1,300.2 458.9,300.2 457.6,300 456.3,299.9 455,300.1 453.8,300.2 452.5,300 451.4,299.7 450.2,299.5 449.1,299.5 448.1,299.3 447.1,298.5"/>
<polygon fill="#fa501e" points="487.6,280.6 486.7,279.6 487.3,278.7 487.5,277.6 487.3,276.3 487.2,275.2 487.7,274.3 488.4,273.4 488.7,272.5 488.7,271.4 488.9,270.5 489.2,269.6 489.5,268.7 489.8,267.7 490.1,266.7 490.5,265.7 490.9,264.6 491.2,263.4 491.6,262.2 492.1,261 492.5,259.7 492.6,258.3 492.8,257 493.6,256 494.7,255.2 495.6,254.2 495.7,253.1 495.7,251.8 496.1,250.7 496.6,249.7 497.1,248.6 497.4,247.5 501.3,249.9 501.2,251 500.8,252 500.6,253 500.5,254.1 500.3,255.1 499.9,256 499.6,257.1 499.2,258.1 498.6,259.2 497.9,260.3 497.4,261.6 497.1,262.9 496.6,264.1 495.9,265.3 495.5,266.5 495.5,267.8 495.6,269.1 495.2,270 494.2,270.6 493.4,271.3 493.1,272.2 493,273.2 492.8,274.2 492.5,275.2 492.2,276.2 491.9,277.2 491.5,278.1 490.8,279 490.1,279.9 489.1,280.7"/>
<polygon fill="#fa141e" points="489.4,276.7 488.2,275.6 488.3,274.5 488.9,273.7 489.3,272.7 489.4,271.7 489.4,270.7 489.6,269.8 490,268.8 490.2,267.9 490.5,266.9 490.9,265.9 491.2,264.7 491.5,263.5 491.9,262.3 492.4,261.1 492.8,259.8 492.9,258.5 493.2,257.2 493.9,256.2 495.1,255.3 495.8,254.3 496,253.2 496.1,251.9 496.5,250.9 497.2,250 498.9,250.3 500.3,251.7 500.2,252.8 500.2,253.9 500,255 499.7,255.9 499.3,256.9 498.8,258 498.2,259.1 497.6,260.2 497.2,261.5 496.8,262.8 496.3,264 495.6,265.2 495.2,266.4 495.2,267.7 495.2,268.9 494.7,269.8 493.8,270.5 492.9,271.2 492.6,272 492.4,273 492.3,274 492,275 491.6,275.9 491,276.8"/>
<polygon fill="#8c0f14" points="493,266.1 492.1,265.1 492.1,263.8 492.5,262.5 492.9,261.3 493.3,260 493.5,258.7 494,257.5 494.8,256.5 495.7,255.5 496.3,254.5 496.5,253.4 496.8,252.3 498.4,252.5 499.6,253.6 499.6,254.8 499.2,255.8 498.7,256.7 498.1,257.7 497.5,258.8 497.1,260 496.7,261.3 496.4,262.6 495.8,263.8 495,264.9 494.4,266.1"/>
</g>
<path d="M325.7 240.3 V415.5 H531.5" fill="none" stroke="#8a8a8a" stroke-width="0.9"/>
<path d="M325.7 240.3h2.2M325.7 269.5h2.2M325.7 298.7h2.2M325.7 327.9h2.2M325.7 357.1h2.2M325.7 386.3h2.2M325.7 415.5h2.2M325.7 415.5v-2.2M355.1 415.5v-2.2M384.5 415.5v-2.2M413.9 415.5v-2.2M443.3 415.5v-2.2M472.7 415.5v-2.2M502.1 415.5v-2.2M531.5 415.5v-2.2" fill="none" stroke="#8a8a8a" stroke-width="0.9"/>
<text x="321.9" y="245.1" font-size="10.7" text-anchor="end">3317</text>
<text x="321.9" y="303.5" font-size="10.7" text-anchor="end">3315</text>
<text x="321.4" y="361.3" font-size="10.7" text-anchor="end">3313</text>
<text x="320.5" y="416.0" font-size="10.7" text-anchor="end">3311</text>
<text x="329.0" y="430.8" font-size="10.7" text-anchor="middle">371</text>
<text x="384.6" y="429.5" font-size="10.7" text-anchor="middle">373</text>
<text x="441.2" y="429.5" font-size="10.7" text-anchor="middle">375</text>
<text x="499.8" y="428.8" font-size="10.7" text-anchor="middle">377</text>
<text x="339.7" y="248.1" font-size="11.0">(d)</text>
<text transform="translate(294.4 326.4) rotate(-90)" font-size="10.5" text-anchor="middle" stroke-width="0.08">Y (km)</text>
<text x="436.0" y="443.4" font-size="10.5" text-anchor="middle" stroke-width="0.08">X (km)</text>
<rect x="525.0" y="381.25" width="6.5" height="13.40" fill="#1c0088"/>
<rect x="525.0" y="368.00" width="6.5" height="13.40" fill="#2d00d4"/>
<rect x="525.0" y="354.75" width="6.5" height="13.40" fill="#1036f2"/>
<rect x="525.0" y="341.50" width="6.5" height="13.40" fill="#00a0f0"/>
<rect x="525.0" y="328.25" width="6.5" height="13.40" fill="#00f0e6"/>
<rect x="525.0" y="315.00" width="6.5" height="13.40" fill="#00f07d"/>
<rect x="525.0" y="301.75" width="6.5" height="13.40" fill="#c8fa28"/>
<rect x="525.0" y="288.50" width="6.5" height="13.40" fill="#fab41e"/>
<rect x="525.0" y="275.25" width="6.5" height="13.40" fill="#fa501e"/>
<rect x="525.0" y="262.00" width="6.5" height="13.40" fill="#fa141e"/>
<rect x="525.0" y="254.75" width="6.5" height="7.40" fill="#8c0f14"/>
<text x="525.5" y="251.0" font-size="7.6">N/m<tspan font-size="5.0" dy="-3.0">2</tspan></text>
<text x="535.5" y="264.8" font-size="7.6">7.5</text>
<text x="535.5" y="291.0" font-size="7.6">6.0</text>
<text x="535.5" y="317.8" font-size="7.6">4.5</text>
<text x="535.5" y="344.5" font-size="7.6">3.0</text>
<text x="535.5" y="371.5" font-size="7.6">1.5</text>
<text x="536.2" y="397.0" font-size="7.6">0</text>
</g>
</svg></body></html>
